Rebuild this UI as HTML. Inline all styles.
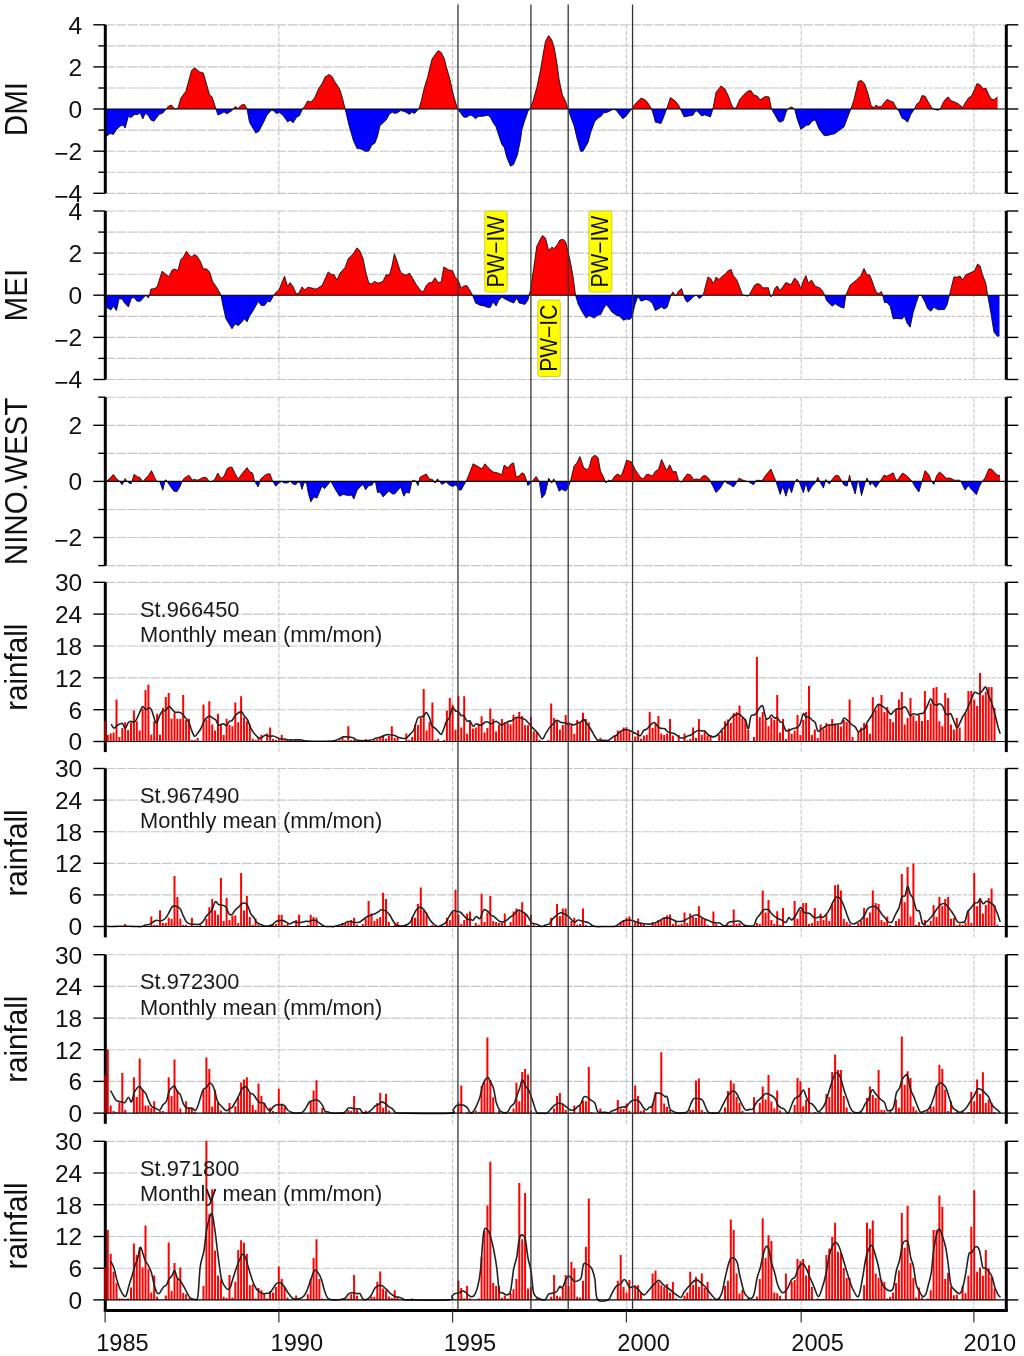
<!DOCTYPE html>
<html><head><meta charset="utf-8"><title>Climate indices and rainfall</title>
<style>html,body{margin:0;padding:0;background:#fff;width:1024px;height:1356px;overflow:hidden}svg{display:block}</style>
</head><body>
<svg width="1024" height="1356" viewBox="0 0 1024 1356" font-family="'Liberation Sans', Arial, Helvetica, sans-serif"><path d="M104.75 193.3H882.25" stroke="#c6c6c6" stroke-width="1.15" stroke-dasharray="10.045 1.4" fill="none"/>
<path d="M882.95 193.3H1006" stroke="#c6c6c6" stroke-width="1.15" stroke-dasharray="3.9 1.4 4.745 1.4" fill="none"/>
<path d="M104.75 172.2H882.25" stroke="#c6c6c6" stroke-width="1.15" stroke-dasharray="10.045 1.4" fill="none"/>
<path d="M882.95 172.2H1006" stroke="#c6c6c6" stroke-width="1.15" stroke-dasharray="3.9 1.4 4.745 1.4" fill="none"/>
<path d="M104.75 151.2H882.25" stroke="#c6c6c6" stroke-width="1.15" stroke-dasharray="10.045 1.4" fill="none"/>
<path d="M882.95 151.2H1006" stroke="#c6c6c6" stroke-width="1.15" stroke-dasharray="3.9 1.4 4.745 1.4" fill="none"/>
<path d="M104.75 130.1H882.25" stroke="#c6c6c6" stroke-width="1.15" stroke-dasharray="10.045 1.4" fill="none"/>
<path d="M882.95 130.1H1006" stroke="#c6c6c6" stroke-width="1.15" stroke-dasharray="3.9 1.4 4.745 1.4" fill="none"/>
<path d="M104.75 88H882.25" stroke="#c6c6c6" stroke-width="1.15" stroke-dasharray="10.045 1.4" fill="none"/>
<path d="M882.95 88H1006" stroke="#c6c6c6" stroke-width="1.15" stroke-dasharray="3.9 1.4 4.745 1.4" fill="none"/>
<path d="M104.75 66.9H882.25" stroke="#c6c6c6" stroke-width="1.15" stroke-dasharray="10.045 1.4" fill="none"/>
<path d="M882.95 66.9H1006" stroke="#c6c6c6" stroke-width="1.15" stroke-dasharray="3.9 1.4 4.745 1.4" fill="none"/>
<path d="M104.75 45.9H882.25" stroke="#c6c6c6" stroke-width="1.15" stroke-dasharray="10.045 1.4" fill="none"/>
<path d="M882.95 45.9H1006" stroke="#c6c6c6" stroke-width="1.15" stroke-dasharray="3.9 1.4 4.745 1.4" fill="none"/>
<path d="M104.75 24.8H882.25" stroke="#c6c6c6" stroke-width="1.15" stroke-dasharray="10.045 1.4" fill="none"/>
<path d="M882.95 24.8H1006" stroke="#c6c6c6" stroke-width="1.15" stroke-dasharray="3.9 1.4 4.745 1.4" fill="none"/>
<line x1="278.9" x2="278.9" y1="24.8" y2="193.3" stroke="#c6c6c6" stroke-width="1.1" stroke-dasharray="4.3 1.6"/>
<line x1="452.6" x2="452.6" y1="24.8" y2="193.3" stroke="#c6c6c6" stroke-width="1.1" stroke-dasharray="4.3 1.6"/>
<line x1="626.4" x2="626.4" y1="24.8" y2="193.3" stroke="#c6c6c6" stroke-width="1.1" stroke-dasharray="4.3 1.6"/>
<line x1="801.2" x2="801.2" y1="24.8" y2="193.3" stroke="#c6c6c6" stroke-width="1.1" stroke-dasharray="4.3 1.6"/>
<line x1="973.9" x2="973.9" y1="24.8" y2="193.3" stroke="#c6c6c6" stroke-width="1.1" stroke-dasharray="4.3 1.6"/>
<path d="M104.75 379.5H882.25" stroke="#c6c6c6" stroke-width="1.15" stroke-dasharray="10.045 1.4" fill="none"/>
<path d="M882.95 379.5H1006" stroke="#c6c6c6" stroke-width="1.15" stroke-dasharray="3.9 1.4 4.745 1.4" fill="none"/>
<path d="M104.75 358.4H882.25" stroke="#c6c6c6" stroke-width="1.15" stroke-dasharray="10.045 1.4" fill="none"/>
<path d="M882.95 358.4H1006" stroke="#c6c6c6" stroke-width="1.15" stroke-dasharray="3.9 1.4 4.745 1.4" fill="none"/>
<path d="M104.75 337.4H882.25" stroke="#c6c6c6" stroke-width="1.15" stroke-dasharray="10.045 1.4" fill="none"/>
<path d="M882.95 337.4H1006" stroke="#c6c6c6" stroke-width="1.15" stroke-dasharray="3.9 1.4 4.745 1.4" fill="none"/>
<path d="M104.75 316.3H882.25" stroke="#c6c6c6" stroke-width="1.15" stroke-dasharray="10.045 1.4" fill="none"/>
<path d="M882.95 316.3H1006" stroke="#c6c6c6" stroke-width="1.15" stroke-dasharray="3.9 1.4 4.745 1.4" fill="none"/>
<path d="M104.75 274.2H882.25" stroke="#c6c6c6" stroke-width="1.15" stroke-dasharray="10.045 1.4" fill="none"/>
<path d="M882.95 274.2H1006" stroke="#c6c6c6" stroke-width="1.15" stroke-dasharray="3.9 1.4 4.745 1.4" fill="none"/>
<path d="M104.75 253.1H882.25" stroke="#c6c6c6" stroke-width="1.15" stroke-dasharray="10.045 1.4" fill="none"/>
<path d="M882.95 253.1H1006" stroke="#c6c6c6" stroke-width="1.15" stroke-dasharray="3.9 1.4 4.745 1.4" fill="none"/>
<path d="M104.75 232.1H882.25" stroke="#c6c6c6" stroke-width="1.15" stroke-dasharray="10.045 1.4" fill="none"/>
<path d="M882.95 232.1H1006" stroke="#c6c6c6" stroke-width="1.15" stroke-dasharray="3.9 1.4 4.745 1.4" fill="none"/>
<path d="M104.75 211H882.25" stroke="#c6c6c6" stroke-width="1.15" stroke-dasharray="10.045 1.4" fill="none"/>
<path d="M882.95 211H1006" stroke="#c6c6c6" stroke-width="1.15" stroke-dasharray="3.9 1.4 4.745 1.4" fill="none"/>
<line x1="278.9" x2="278.9" y1="211.0" y2="379.5" stroke="#c6c6c6" stroke-width="1.1" stroke-dasharray="4.3 1.6"/>
<line x1="452.6" x2="452.6" y1="211.0" y2="379.5" stroke="#c6c6c6" stroke-width="1.1" stroke-dasharray="4.3 1.6"/>
<line x1="626.4" x2="626.4" y1="211.0" y2="379.5" stroke="#c6c6c6" stroke-width="1.1" stroke-dasharray="4.3 1.6"/>
<line x1="801.2" x2="801.2" y1="211.0" y2="379.5" stroke="#c6c6c6" stroke-width="1.1" stroke-dasharray="4.3 1.6"/>
<line x1="973.9" x2="973.9" y1="211.0" y2="379.5" stroke="#c6c6c6" stroke-width="1.1" stroke-dasharray="4.3 1.6"/>
<path d="M104.75 565.6H882.25" stroke="#c6c6c6" stroke-width="1.15" stroke-dasharray="10.045 1.4" fill="none"/>
<path d="M882.95 565.6H1006" stroke="#c6c6c6" stroke-width="1.15" stroke-dasharray="3.9 1.4 4.745 1.4" fill="none"/>
<path d="M104.75 537.5H882.25" stroke="#c6c6c6" stroke-width="1.15" stroke-dasharray="10.045 1.4" fill="none"/>
<path d="M882.95 537.5H1006" stroke="#c6c6c6" stroke-width="1.15" stroke-dasharray="3.9 1.4 4.745 1.4" fill="none"/>
<path d="M104.75 509.5H882.25" stroke="#c6c6c6" stroke-width="1.15" stroke-dasharray="10.045 1.4" fill="none"/>
<path d="M882.95 509.5H1006" stroke="#c6c6c6" stroke-width="1.15" stroke-dasharray="3.9 1.4 4.745 1.4" fill="none"/>
<path d="M104.75 453.3H882.25" stroke="#c6c6c6" stroke-width="1.15" stroke-dasharray="10.045 1.4" fill="none"/>
<path d="M882.95 453.3H1006" stroke="#c6c6c6" stroke-width="1.15" stroke-dasharray="3.9 1.4 4.745 1.4" fill="none"/>
<path d="M104.75 425.3H882.25" stroke="#c6c6c6" stroke-width="1.15" stroke-dasharray="10.045 1.4" fill="none"/>
<path d="M882.95 425.3H1006" stroke="#c6c6c6" stroke-width="1.15" stroke-dasharray="3.9 1.4 4.745 1.4" fill="none"/>
<path d="M104.75 397.2H882.25" stroke="#c6c6c6" stroke-width="1.15" stroke-dasharray="10.045 1.4" fill="none"/>
<path d="M882.95 397.2H1006" stroke="#c6c6c6" stroke-width="1.15" stroke-dasharray="3.9 1.4 4.745 1.4" fill="none"/>
<line x1="278.9" x2="278.9" y1="397.2" y2="565.6" stroke="#c6c6c6" stroke-width="1.1" stroke-dasharray="4.3 1.6"/>
<line x1="452.6" x2="452.6" y1="397.2" y2="565.6" stroke="#c6c6c6" stroke-width="1.1" stroke-dasharray="4.3 1.6"/>
<line x1="626.4" x2="626.4" y1="397.2" y2="565.6" stroke="#c6c6c6" stroke-width="1.1" stroke-dasharray="4.3 1.6"/>
<line x1="801.2" x2="801.2" y1="397.2" y2="565.6" stroke="#c6c6c6" stroke-width="1.1" stroke-dasharray="4.3 1.6"/>
<line x1="973.9" x2="973.9" y1="397.2" y2="565.6" stroke="#c6c6c6" stroke-width="1.1" stroke-dasharray="4.3 1.6"/>
<path d="M104.75 709.7H882.25" stroke="#c6c6c6" stroke-width="1.15" stroke-dasharray="10.045 1.4" fill="none"/>
<path d="M882.95 709.7H1006" stroke="#c6c6c6" stroke-width="1.15" stroke-dasharray="3.9 1.4 4.745 1.4" fill="none"/>
<path d="M104.75 677.8H882.25" stroke="#c6c6c6" stroke-width="1.15" stroke-dasharray="10.045 1.4" fill="none"/>
<path d="M882.95 677.8H1006" stroke="#c6c6c6" stroke-width="1.15" stroke-dasharray="3.9 1.4 4.745 1.4" fill="none"/>
<path d="M104.75 646H882.25" stroke="#c6c6c6" stroke-width="1.15" stroke-dasharray="10.045 1.4" fill="none"/>
<path d="M882.95 646H1006" stroke="#c6c6c6" stroke-width="1.15" stroke-dasharray="3.9 1.4 4.745 1.4" fill="none"/>
<path d="M104.75 614.1H882.25" stroke="#c6c6c6" stroke-width="1.15" stroke-dasharray="10.045 1.4" fill="none"/>
<path d="M882.95 614.1H1006" stroke="#c6c6c6" stroke-width="1.15" stroke-dasharray="3.9 1.4 4.745 1.4" fill="none"/>
<path d="M104.75 582.3H882.25" stroke="#c6c6c6" stroke-width="1.15" stroke-dasharray="10.045 1.4" fill="none"/>
<path d="M882.95 582.3H1006" stroke="#c6c6c6" stroke-width="1.15" stroke-dasharray="3.9 1.4 4.745 1.4" fill="none"/>
<line x1="278.9" x2="278.9" y1="582.3" y2="752.1" stroke="#c6c6c6" stroke-width="1.1" stroke-dasharray="4.3 1.6"/>
<line x1="452.6" x2="452.6" y1="582.3" y2="752.1" stroke="#c6c6c6" stroke-width="1.1" stroke-dasharray="4.3 1.6"/>
<line x1="626.4" x2="626.4" y1="582.3" y2="752.1" stroke="#c6c6c6" stroke-width="1.1" stroke-dasharray="4.3 1.6"/>
<line x1="801.2" x2="801.2" y1="582.3" y2="752.1" stroke="#c6c6c6" stroke-width="1.1" stroke-dasharray="4.3 1.6"/>
<line x1="973.9" x2="973.9" y1="582.3" y2="752.1" stroke="#c6c6c6" stroke-width="1.1" stroke-dasharray="4.3 1.6"/>
<path d="M104.75 894.9H882.25" stroke="#c6c6c6" stroke-width="1.15" stroke-dasharray="10.045 1.4" fill="none"/>
<path d="M882.95 894.9H1006" stroke="#c6c6c6" stroke-width="1.15" stroke-dasharray="3.9 1.4 4.745 1.4" fill="none"/>
<path d="M104.75 863.3H882.25" stroke="#c6c6c6" stroke-width="1.15" stroke-dasharray="10.045 1.4" fill="none"/>
<path d="M882.95 863.3H1006" stroke="#c6c6c6" stroke-width="1.15" stroke-dasharray="3.9 1.4 4.745 1.4" fill="none"/>
<path d="M104.75 831.7H882.25" stroke="#c6c6c6" stroke-width="1.15" stroke-dasharray="10.045 1.4" fill="none"/>
<path d="M882.95 831.7H1006" stroke="#c6c6c6" stroke-width="1.15" stroke-dasharray="3.9 1.4 4.745 1.4" fill="none"/>
<path d="M104.75 800.1H882.25" stroke="#c6c6c6" stroke-width="1.15" stroke-dasharray="10.045 1.4" fill="none"/>
<path d="M882.95 800.1H1006" stroke="#c6c6c6" stroke-width="1.15" stroke-dasharray="3.9 1.4 4.745 1.4" fill="none"/>
<path d="M104.75 768.5H882.25" stroke="#c6c6c6" stroke-width="1.15" stroke-dasharray="10.045 1.4" fill="none"/>
<path d="M882.95 768.5H1006" stroke="#c6c6c6" stroke-width="1.15" stroke-dasharray="3.9 1.4 4.745 1.4" fill="none"/>
<line x1="278.9" x2="278.9" y1="768.5" y2="937.4" stroke="#c6c6c6" stroke-width="1.1" stroke-dasharray="4.3 1.6"/>
<line x1="452.6" x2="452.6" y1="768.5" y2="937.4" stroke="#c6c6c6" stroke-width="1.1" stroke-dasharray="4.3 1.6"/>
<line x1="626.4" x2="626.4" y1="768.5" y2="937.4" stroke="#c6c6c6" stroke-width="1.1" stroke-dasharray="4.3 1.6"/>
<line x1="801.2" x2="801.2" y1="768.5" y2="937.4" stroke="#c6c6c6" stroke-width="1.1" stroke-dasharray="4.3 1.6"/>
<line x1="973.9" x2="973.9" y1="768.5" y2="937.4" stroke="#c6c6c6" stroke-width="1.1" stroke-dasharray="4.3 1.6"/>
<path d="M104.75 1081.4H882.25" stroke="#c6c6c6" stroke-width="1.15" stroke-dasharray="10.045 1.4" fill="none"/>
<path d="M882.95 1081.4H1006" stroke="#c6c6c6" stroke-width="1.15" stroke-dasharray="3.9 1.4 4.745 1.4" fill="none"/>
<path d="M104.75 1049.7H882.25" stroke="#c6c6c6" stroke-width="1.15" stroke-dasharray="10.045 1.4" fill="none"/>
<path d="M882.95 1049.7H1006" stroke="#c6c6c6" stroke-width="1.15" stroke-dasharray="3.9 1.4 4.745 1.4" fill="none"/>
<path d="M104.75 1018.1H882.25" stroke="#c6c6c6" stroke-width="1.15" stroke-dasharray="10.045 1.4" fill="none"/>
<path d="M882.95 1018.1H1006" stroke="#c6c6c6" stroke-width="1.15" stroke-dasharray="3.9 1.4 4.745 1.4" fill="none"/>
<path d="M104.75 986.4H882.25" stroke="#c6c6c6" stroke-width="1.15" stroke-dasharray="10.045 1.4" fill="none"/>
<path d="M882.95 986.4H1006" stroke="#c6c6c6" stroke-width="1.15" stroke-dasharray="3.9 1.4 4.745 1.4" fill="none"/>
<path d="M104.75 954.7H882.25" stroke="#c6c6c6" stroke-width="1.15" stroke-dasharray="10.045 1.4" fill="none"/>
<path d="M882.95 954.7H1006" stroke="#c6c6c6" stroke-width="1.15" stroke-dasharray="3.9 1.4 4.745 1.4" fill="none"/>
<line x1="278.9" x2="278.9" y1="954.7" y2="1123.8" stroke="#c6c6c6" stroke-width="1.1" stroke-dasharray="4.3 1.6"/>
<line x1="452.6" x2="452.6" y1="954.7" y2="1123.8" stroke="#c6c6c6" stroke-width="1.1" stroke-dasharray="4.3 1.6"/>
<line x1="626.4" x2="626.4" y1="954.7" y2="1123.8" stroke="#c6c6c6" stroke-width="1.1" stroke-dasharray="4.3 1.6"/>
<line x1="801.2" x2="801.2" y1="954.7" y2="1123.8" stroke="#c6c6c6" stroke-width="1.1" stroke-dasharray="4.3 1.6"/>
<line x1="973.9" x2="973.9" y1="954.7" y2="1123.8" stroke="#c6c6c6" stroke-width="1.1" stroke-dasharray="4.3 1.6"/>
<path d="M104.75 1268.2H882.25" stroke="#c6c6c6" stroke-width="1.15" stroke-dasharray="10.045 1.4" fill="none"/>
<path d="M882.95 1268.2H1006" stroke="#c6c6c6" stroke-width="1.15" stroke-dasharray="3.9 1.4 4.745 1.4" fill="none"/>
<path d="M104.75 1236.5H882.25" stroke="#c6c6c6" stroke-width="1.15" stroke-dasharray="10.045 1.4" fill="none"/>
<path d="M882.95 1236.5H1006" stroke="#c6c6c6" stroke-width="1.15" stroke-dasharray="3.9 1.4 4.745 1.4" fill="none"/>
<path d="M104.75 1204.7H882.25" stroke="#c6c6c6" stroke-width="1.15" stroke-dasharray="10.045 1.4" fill="none"/>
<path d="M882.95 1204.7H1006" stroke="#c6c6c6" stroke-width="1.15" stroke-dasharray="3.9 1.4 4.745 1.4" fill="none"/>
<path d="M104.75 1173H882.25" stroke="#c6c6c6" stroke-width="1.15" stroke-dasharray="10.045 1.4" fill="none"/>
<path d="M882.95 1173H1006" stroke="#c6c6c6" stroke-width="1.15" stroke-dasharray="3.9 1.4 4.745 1.4" fill="none"/>
<path d="M104.75 1141.3H882.25" stroke="#c6c6c6" stroke-width="1.15" stroke-dasharray="10.045 1.4" fill="none"/>
<path d="M882.95 1141.3H1006" stroke="#c6c6c6" stroke-width="1.15" stroke-dasharray="3.9 1.4 4.745 1.4" fill="none"/>
<line x1="278.9" x2="278.9" y1="1141.3" y2="1310.5" stroke="#c6c6c6" stroke-width="1.1" stroke-dasharray="4.3 1.6"/>
<line x1="452.6" x2="452.6" y1="1141.3" y2="1310.5" stroke="#c6c6c6" stroke-width="1.1" stroke-dasharray="4.3 1.6"/>
<line x1="626.4" x2="626.4" y1="1141.3" y2="1310.5" stroke="#c6c6c6" stroke-width="1.1" stroke-dasharray="4.3 1.6"/>
<line x1="801.2" x2="801.2" y1="1141.3" y2="1310.5" stroke="#c6c6c6" stroke-width="1.1" stroke-dasharray="4.3 1.6"/>
<line x1="973.9" x2="973.9" y1="1141.3" y2="1310.5" stroke="#c6c6c6" stroke-width="1.1" stroke-dasharray="4.3 1.6"/>
<path d="M105.2,109 L105.2,109 L106.5,109 L110.2,109 L113.4,109 L116.5,109 L120.2,109 L122.8,109 L125.2,109 L128.4,109 L130.9,109 L134.6,109 L137.1,109 L140.2,109 L142.8,109 L145.2,109 L147.8,109 L150.9,109 L154,109 L159,109 L162.8,109 L166.2,109 L166.5,108.8 L168.4,106.2 L171.5,105 L174.6,109 L177.8,108.5 L180.9,98.1 L185.9,91.2 L191.5,70.6 L194.6,67.8 L199.6,71.9 L203.4,73.1 L209.6,95 L212.1,96.9 L215.9,108.8 L216,109 L217.8,109 L220.9,109 L224,109 L227.1,109 L232,109 L233.2,109 L235.1,106.5 L238.2,108.5 L241.4,105 L244.5,104.4 L247,109 L247,109 L249.5,109 L255.8,109 L258.9,109 L263.2,109 L267,109 L271.4,109 L273.2,109 L276.4,109 L279.5,109 L283.2,109 L287.6,109 L290.1,109 L293.2,109 L296.4,109 L299.5,109 L302.5,109 L302.6,108.8 L304.5,106.5 L307.6,101 L310.8,101.9 L314.5,98.1 L318.9,88.1 L322,83.8 L325.1,76.9 L328.9,74.4 L332,76.5 L334.5,81.2 L339.5,88.8 L342,96.2 L345.1,108.8 L345.2,109 L348.9,109 L353.2,109 L357,109 L360,109 L362.5,109 L365.6,109 L368.8,109 L371.9,109 L375,109 L377.5,109 L380,109 L383.1,109 L386.2,109 L389.4,109 L392.5,109 L394.4,109 L397.5,109 L400.6,109 L404.4,109 L406.9,109 L409.4,109 L411.9,109 L414.4,109 L418.7,109 L418.8,109 L421.2,101.2 L424.4,87.5 L427.5,77.5 L431.9,59.4 L435,54.8 L438.1,50.6 L441.2,52.5 L444.4,58.8 L446.2,66.2 L450,79.4 L453.1,93.8 L457.5,108.8 L457.7,109 L463.8,109 L466.9,109 L470,109 L472.5,109 L475.6,109 L478.1,109 L483.1,109 L488,109 L490.5,109 L493,109 L496.1,109 L498.6,109 L501.8,109 L504.2,109 L506.8,109 L510.5,109 L513.6,109 L517.4,109 L520.5,109 L521.8,109 L524.9,109 L528,109 L529.6,109 L529.9,108.8 L533,101.2 L536.8,87.5 L540.5,70 L543,55 L545.5,41.2 L548.6,35.6 L551.8,40 L554.2,47.5 L556.8,62.5 L559.2,80 L562.4,95 L565.5,101.2 L568,108.8 L568.1,109 L570.5,109 L574.2,109 L576.8,109 L580.5,109 L583,109 L588,109 L591.1,109 L594.9,109 L598,109 L601.1,109 L603.6,109 L606.8,109 L609.9,109 L613,109 L616,109 L619.8,109 L622.9,109 L626,109 L631.6,109 L631.6,109 L634.8,104.4 L641,98.1 L645.4,100 L648.5,103.8 L651.6,109 L651.6,109 L653.5,109 L655.4,109 L661,109 L663.5,109 L666.6,109 L666.6,109 L670.4,97.5 L674.8,100.6 L678.5,105 L680.4,109 L680.4,109 L684.1,109 L688.5,109 L692.9,109 L696,109 L698.5,109 L701.6,109 L704.8,109 L710.4,109 L712.9,109 L712.9,109 L716,92.5 L721,86 L724.8,88.8 L728.5,96.2 L731.6,105 L734.8,109 L736.6,106.5 L739.8,99.4 L744,94.4 L747.8,91.2 L750.9,90.6 L754,95.2 L757.1,96 L760.2,99.8 L765.2,96.5 L769,96.9 L771.5,109 L771.5,109 L774.6,109 L778.4,109 L780.2,109 L783.4,109 L786.5,109 L788.2,109 L789,108.1 L791.5,106.9 L794.6,109 L794.6,109 L797.1,109 L800.9,109 L806.5,109 L809,109 L812.1,109 L815.2,109 L819,109 L824,109 L827.1,109 L831.5,109 L834.6,109 L839,109 L844,109 L847.1,109 L850.9,109 L850.9,109 L854,99.4 L858.4,81.2 L861.5,80.6 L864.6,83.8 L867.8,93.1 L871.5,106.9 L872,106.2 L873.9,108.1 L875.8,105.2 L878.9,106.9 L881.4,106.5 L883.9,103.1 L887,99.4 L890.8,101.2 L893.2,101.9 L897,109 L897,109 L898.9,109 L902,109 L904.5,109 L907.6,109 L910.8,109 L914.5,109 L914.5,109 L916.4,104.4 L919.5,101.9 L922,95.6 L925.1,96.2 L928.2,101.9 L932,108.1 L933.9,109 L934.5,109 L937.6,109 L940.1,109 L940.3,109 L943.2,102.5 L945.8,98.8 L948.2,96.9 L950.8,100.6 L954.5,101.9 L958.2,103.8 L962.6,107.5 L965.8,101.9 L968.9,97.5 L971.4,96.2 L974.5,89.4 L977,83.5 L980.1,85 L983.2,88.8 L985.8,88.1 L988.9,95 L992,99.8 L994.5,99.4 L997.6,96.9 L997.6,109 Z" fill="#ff0000"/>
<path d="M105.2,109 L105.2,136.9 L106.5,136.2 L110.2,133.5 L113.4,134.4 L116.5,129.4 L120.2,126.2 L122.8,125 L125.2,128.1 L128.4,116.2 L130.9,117.5 L134.6,114.4 L137.1,114.8 L140.2,112.8 L142.8,119 L145.2,113.5 L147.8,114.8 L150.9,120 L154,121.2 L159,114.4 L162.8,113.1 L166.2,109 L166.5,109 L168.4,109 L171.5,109 L174.6,109 L177.8,109 L180.9,109 L185.9,109 L191.5,109 L194.6,109 L199.6,109 L203.4,109 L209.6,109 L212.1,109 L215.9,109 L216,109 L217.8,115 L220.9,113.8 L224,111.9 L227.1,113.8 L232,110.6 L233.2,109 L235.1,109 L238.2,109 L241.4,109 L244.5,109 L247,109 L247,109 L249.5,122.5 L255.8,133.1 L258.9,131.2 L263.2,123.1 L267,115 L271.4,110.2 L273.2,110.6 L276.4,113.5 L279.5,112.5 L283.2,115.6 L287.6,121.9 L290.1,120.2 L293.2,122.8 L296.4,117.5 L299.5,115.6 L302.5,109 L302.6,109 L304.5,109 L307.6,109 L310.8,109 L314.5,109 L318.9,109 L322,109 L325.1,109 L328.9,109 L332,109 L334.5,109 L339.5,109 L342,109 L345.1,109 L345.2,109 L348.9,125 L353.2,140 L357,148.5 L360,148.8 L362.5,149.8 L365.6,151.5 L368.8,151 L371.9,145 L375,143.1 L377.5,136.2 L380,125.6 L383.1,122.8 L386.2,120 L389.4,114 L392.5,112.2 L394.4,113.5 L397.5,112.8 L400.6,110.6 L404.4,111.5 L406.9,112.8 L409.4,114.4 L411.9,111.9 L414.4,113.5 L418.7,109 L418.8,109 L421.2,109 L424.4,109 L427.5,109 L431.9,109 L435,109 L438.1,109 L441.2,109 L444.4,109 L446.2,109 L450,109 L453.1,109 L457.5,109 L457.7,109 L463.8,117.2 L466.9,117.2 L470,115 L472.5,116 L475.6,118.8 L478.1,116.5 L483.1,116.2 L488,115.2 L490.5,117.5 L493,122.5 L496.1,126.9 L498.6,135 L501.8,144.4 L504.2,147.5 L506.8,157.5 L510.5,166.2 L513.6,164.4 L517.4,155 L520.5,140 L521.8,130 L524.9,120 L528,111.2 L529.6,109 L529.9,109 L533,109 L536.8,109 L540.5,109 L543,109 L545.5,109 L548.6,109 L551.8,109 L554.2,109 L556.8,109 L559.2,109 L562.4,109 L565.5,109 L568,109 L568.1,109 L570.5,116.2 L574.2,126.2 L576.8,137.5 L580.5,151.2 L583,151.2 L588,142.5 L591.1,131.2 L594.9,121.2 L598,118.1 L601.1,116.2 L603.6,112.8 L606.8,112.5 L609.9,111 L613,109.4 L616,110 L619.8,115 L622.9,118.8 L626,116.2 L631.6,109 L631.6,109 L634.8,109 L641,109 L645.4,109 L648.5,109 L651.6,109 L651.6,109 L653.5,115 L655.4,122.2 L661,123.5 L663.5,117.5 L666.6,109 L666.6,109 L670.4,109 L674.8,109 L678.5,109 L680.4,109 L680.4,109 L684.1,116.9 L688.5,116 L692.9,115.2 L696,110.6 L698.5,112.5 L701.6,116 L704.8,114.8 L710.4,116.9 L712.9,109 L712.9,109 L716,109 L721,109 L724.8,109 L728.5,109 L731.6,109 L734.8,109 L736.6,109 L739.8,109 L744,109 L747.8,109 L750.9,109 L754,109 L757.1,109 L760.2,109 L765.2,109 L769,109 L771.5,109 L771.5,109 L774.6,114.4 L778.4,121.2 L780.2,122.2 L783.4,120.6 L786.5,111 L788.2,109 L789,109 L791.5,109 L794.6,109 L794.6,109 L797.1,118.8 L800.9,129.4 L806.5,125.2 L809,125 L812.1,121.2 L815.2,119.8 L819,128.8 L824,135.6 L827.1,135.6 L831.5,134.4 L834.6,133.8 L839,130.6 L844,126.9 L847.1,118.8 L850.9,109 L850.9,109 L854,109 L858.4,109 L861.5,109 L864.6,109 L867.8,109 L871.5,109 L872,109 L873.9,109 L875.8,109 L878.9,109 L881.4,109 L883.9,109 L887,109 L890.8,109 L893.2,109 L897,109 L897,109 L898.9,111.2 L902,118.1 L904.5,119.4 L907.6,122.2 L910.8,114.4 L914.5,109 L914.5,109 L916.4,109 L919.5,109 L922,109 L925.1,109 L928.2,109 L932,109 L933.9,109 L934.5,109.4 L937.6,110.2 L940.1,109.4 L940.3,109 L943.2,109 L945.8,109 L948.2,109 L950.8,109 L954.5,109 L958.2,109 L962.6,109 L965.8,109 L968.9,109 L971.4,109 L974.5,109 L977,109 L980.1,109 L983.2,109 L985.8,109 L988.9,109 L992,109 L994.5,109 L997.6,109 L997.6,109 Z" fill="#0000ff"/>
<path d="M105.2,136.9 L106.5,136.2 L110.2,133.5 L113.4,134.4 L116.5,129.4 L120.2,126.2 L122.8,125 L125.2,128.1 L128.4,116.2 L130.9,117.5 L134.6,114.4 L137.1,114.8 L140.2,112.8 L142.8,119 L145.2,113.5 L147.8,114.8 L150.9,120 L154,121.2 L159,114.4 L162.8,113.1 L166.5,108.8 L168.4,106.2 L171.5,105 L174.6,109 L177.8,108.5 L180.9,98.1 L185.9,91.2 L191.5,70.6 L194.6,67.8 L199.6,71.9 L203.4,73.1 L209.6,95 L212.1,96.9 L215.9,108.8 L217.8,115 L220.9,113.8 L224,111.9 L227.1,113.8 L232,110.6 L235.1,106.5 L238.2,108.5 L241.4,105 L244.5,104.4 L247,109 L249.5,122.5 L255.8,133.1 L258.9,131.2 L263.2,123.1 L267,115 L271.4,110.2 L273.2,110.6 L276.4,113.5 L279.5,112.5 L283.2,115.6 L287.6,121.9 L290.1,120.2 L293.2,122.8 L296.4,117.5 L299.5,115.6 L302.6,108.8 L304.5,106.5 L307.6,101 L310.8,101.9 L314.5,98.1 L318.9,88.1 L322,83.8 L325.1,76.9 L328.9,74.4 L332,76.5 L334.5,81.2 L339.5,88.8 L342,96.2 L345.1,108.8 L348.9,125 L353.2,140 L357,148.5 L360,148.8 L362.5,149.8 L365.6,151.5 L368.8,151 L371.9,145 L375,143.1 L377.5,136.2 L380,125.6 L383.1,122.8 L386.2,120 L389.4,114 L392.5,112.2 L394.4,113.5 L397.5,112.8 L400.6,110.6 L404.4,111.5 L406.9,112.8 L409.4,114.4 L411.9,111.9 L414.4,113.5 L418.8,109 L421.2,101.2 L424.4,87.5 L427.5,77.5 L431.9,59.4 L435,54.8 L438.1,50.6 L441.2,52.5 L444.4,58.8 L446.2,66.2 L450,79.4 L453.1,93.8 L457.5,108.8 L463.8,117.2 L466.9,117.2 L470,115 L472.5,116 L475.6,118.8 L478.1,116.5 L483.1,116.2 L488,115.2 L490.5,117.5 L493,122.5 L496.1,126.9 L498.6,135 L501.8,144.4 L504.2,147.5 L506.8,157.5 L510.5,166.2 L513.6,164.4 L517.4,155 L520.5,140 L521.8,130 L524.9,120 L528,111.2 L529.9,108.8 L533,101.2 L536.8,87.5 L540.5,70 L543,55 L545.5,41.2 L548.6,35.6 L551.8,40 L554.2,47.5 L556.8,62.5 L559.2,80 L562.4,95 L565.5,101.2 L568,108.8 L570.5,116.2 L574.2,126.2 L576.8,137.5 L580.5,151.2 L583,151.2 L588,142.5 L591.1,131.2 L594.9,121.2 L598,118.1 L601.1,116.2 L603.6,112.8 L606.8,112.5 L609.9,111 L613,109.4 L616,110 L619.8,115 L622.9,118.8 L626,116.2 L631.6,109 L634.8,104.4 L641,98.1 L645.4,100 L648.5,103.8 L651.6,109 L653.5,115 L655.4,122.2 L661,123.5 L663.5,117.5 L666.6,109 L670.4,97.5 L674.8,100.6 L678.5,105 L680.4,109 L684.1,116.9 L688.5,116 L692.9,115.2 L696,110.6 L698.5,112.5 L701.6,116 L704.8,114.8 L710.4,116.9 L712.9,109 L716,92.5 L721,86 L724.8,88.8 L728.5,96.2 L731.6,105 L734.8,109 L736.6,106.5 L739.8,99.4 L744,94.4 L747.8,91.2 L750.9,90.6 L754,95.2 L757.1,96 L760.2,99.8 L765.2,96.5 L769,96.9 L771.5,109 L774.6,114.4 L778.4,121.2 L780.2,122.2 L783.4,120.6 L786.5,111 L789,108.1 L791.5,106.9 L794.6,109 L797.1,118.8 L800.9,129.4 L806.5,125.2 L809,125 L812.1,121.2 L815.2,119.8 L819,128.8 L824,135.6 L827.1,135.6 L831.5,134.4 L834.6,133.8 L839,130.6 L844,126.9 L847.1,118.8 L850.9,109 L854,99.4 L858.4,81.2 L861.5,80.6 L864.6,83.8 L867.8,93.1 L871.5,106.9 L872,106.2 L873.9,108.1 L875.8,105.2 L878.9,106.9 L881.4,106.5 L883.9,103.1 L887,99.4 L890.8,101.2 L893.2,101.9 L897,109 L898.9,111.2 L902,118.1 L904.5,119.4 L907.6,122.2 L910.8,114.4 L914.5,109 L916.4,104.4 L919.5,101.9 L922,95.6 L925.1,96.2 L928.2,101.9 L932,108.1 L934.5,109.4 L937.6,110.2 L940.1,109.4 L943.2,102.5 L945.8,98.8 L948.2,96.9 L950.8,100.6 L954.5,101.9 L958.2,103.8 L962.6,107.5 L965.8,101.9 L968.9,97.5 L971.4,96.2 L974.5,89.4 L977,83.5 L980.1,85 L983.2,88.8 L985.8,88.1 L988.9,95 L992,99.8 L994.5,99.4 L997.6,96.9" fill="none" stroke="#000" stroke-width="0.8" stroke-linejoin="round"/>
<path d="M105.2,295.2 L105.2,295.2 L107.8,295.2 L110.9,295.2 L113.4,295.2 L116.5,295.2 L119,295.2 L122.1,295.2 L124.6,295.2 L128.4,295.2 L131.5,295.2 L134,295.2 L137.1,295.2 L140.2,295.2 L143.4,295.2 L145.2,295.2 L147.1,295.2 L148.4,295.2 L149.5,295.2 L149.6,295 L150.9,289 L154,288.8 L157.1,286.9 L162.1,271.2 L165.2,273.8 L169,276.9 L172.1,270 L174.6,269 L177.8,270.6 L180.9,259.4 L183.4,256.9 L186.5,251.2 L189,255 L191.5,256.9 L194.6,254.4 L197.1,256.2 L200.2,261.2 L203.4,269 L206.5,268.8 L209.6,271.9 L212.8,281.9 L217.1,288.1 L220.9,295 L220.9,295.2 L222.8,295.2 L225.9,295.2 L229,295.2 L232,295.2 L235.1,295.2 L238.2,295.2 L241.4,295.2 L244.5,295.2 L247,295.2 L249.5,295.2 L253.2,295.2 L258.2,295.2 L261.4,295.2 L264.5,295.2 L267.6,295.2 L270.1,295.2 L273.7,295.2 L273.9,295 L275.8,292.5 L278.9,290 L281.4,283.8 L284.5,276.2 L287.6,286.5 L290.1,282.5 L293.2,286.9 L296.4,294 L298.9,293.1 L302,286.9 L305.1,289.8 L307.6,287.2 L312,288.1 L315.1,289 L317,288.8 L319.5,286.9 L322,285.6 L325.1,278.8 L328.2,271.9 L331.4,274.4 L333.9,274.4 L337,280 L340.1,273.1 L343.2,269.4 L345.1,267.5 L348.2,258.8 L353.2,253.8 L357,247.8 L360,251.2 L363.1,258.8 L365.6,271.2 L368.8,283.1 L371.9,284 L374.4,281.2 L377.5,283.1 L380.6,282.5 L383.1,281 L386.2,274.8 L389.4,275 L391.9,266.2 L394.4,253.8 L397.5,262.5 L400.6,272.2 L403.1,274 L406.2,275.2 L409.4,273.1 L412.5,278.1 L416.2,284.4 L420,289.8 L423.1,292.2 L426.2,285.6 L428.8,282.8 L431.9,282.5 L435,277.8 L438.1,282.5 L441.2,281.9 L443.8,266.9 L448.8,270 L452.5,270.6 L455,276.9 L458.1,280 L461.2,288.1 L463.8,286 L466.9,285.6 L469.4,289.4 L472.5,295 L472.6,295.2 L475.6,295.2 L480,295.2 L484.4,295.2 L488,295.2 L490.5,295.2 L493,295.2 L496.1,295.2 L498.6,295.2 L501.8,295.2 L504.9,295.2 L508,295.2 L511.1,295.2 L513.6,295.2 L516.8,295.2 L519.2,295.2 L522.4,295.2 L524.9,295.2 L528,295.2 L529.2,295.2 L529.2,295 L530.5,290 L533.6,268.8 L536.8,246.2 L539.9,240 L542.4,235.6 L545.5,238.1 L548.6,250.2 L551.8,247.2 L554.2,248.5 L557.4,244.4 L559.9,240 L563,239.4 L565.5,241.5 L568,251.2 L570.5,262.5 L573,276.2 L575.5,295 L575.6,295.2 L578,295.2 L581.8,295.2 L586.1,295.2 L589.2,295.2 L594.2,295.2 L598,295.2 L600.5,295.2 L603.6,295.2 L606.1,295.2 L609.2,295.2 L611.8,295.2 L616,295.2 L619.8,295.2 L623.5,295.2 L626.6,295.2 L629.8,295.2 L632.2,295.2 L634.8,295.2 L637.9,295.2 L641,295.2 L646,295.2 L649.1,295.2 L652.2,295.2 L655.4,295.2 L658.5,295.2 L661.6,295.2 L664.1,295.2 L667.2,295.2 L670.9,295.2 L671,295 L672.9,291.9 L675.2,295.2 L675.8,295.2 L676.2,295.2 L678.5,291.2 L681.6,288.5 L683.5,295 L683.6,295.2 L685.4,295.2 L687.2,295.2 L690.4,295.2 L693.5,295.2 L696.6,295.2 L699.1,295.2 L701.6,295.2 L702.7,295.2 L703.5,294 L707.9,276.9 L711,279 L713.5,283.8 L716,277.2 L719.1,279.4 L722.2,276.2 L725.4,274 L727.9,271 L731,269.4 L733.5,276 L736.6,279.4 L739.8,287.5 L742.2,294.4 L744,295 L744.8,295.2 L747.8,295.2 L748.8,295.2 L749.6,294.4 L754,286 L756.5,283.8 L759.6,284 L762.8,287.8 L768.4,287.8 L769.6,293.1 L770.3,295.2 L770.9,295.2 L772.1,295.2 L772.8,294.4 L774.6,288.8 L777.1,286 L780.2,290.6 L785.9,282.5 L790.9,284.8 L794.6,278.1 L797.8,281.2 L800.9,288.8 L803.4,280.6 L805.9,275.6 L808.4,283.1 L811.5,280 L815.2,286.2 L819.6,287.8 L822.1,290.2 L824.6,295 L824.7,295.2 L826.5,295.2 L832.1,295.2 L835.2,295.2 L840.2,295.2 L844,295.2 L845.8,295.2 L845.9,295 L850.2,285 L855.9,280.6 L860.9,275.6 L864,268.5 L867.1,275 L869.6,274.8 L872,280.6 L873.9,286.2 L876.4,292.5 L878.9,293.5 L881.4,291.5 L882.6,295 L882.7,295.2 L884.5,295.2 L887,295.2 L890.1,295.2 L893.2,295.2 L897,295.2 L902,295.2 L904.5,295.2 L907,295.2 L910.1,295.2 L913.2,295.2 L916.4,295.2 L918.8,295.2 L918.9,295 L919.9,295.2 L921.4,295.2 L924.5,295.2 L927.6,295.2 L930.8,295.2 L933.9,295.2 L938.2,295.2 L944.5,295.2 L947,295.2 L949.4,295.2 L949.5,295 L953.9,276.9 L957,277.2 L960.1,276 L962.6,280 L965.8,274.8 L970.8,272.5 L974.5,271 L977.6,264 L980.1,266 L982.6,275 L985.8,283.1 L987.6,295 L987.7,295.2 L990.8,295.2 L993.9,295.2 L997.6,295.2 L999.5,295.2 L999.5,295.2 Z" fill="#ff0000"/>
<path d="M105.2,295.2 L105.2,306.9 L107.8,308.1 L110.9,310 L113.4,306.2 L116.5,310.6 L119,298.8 L122.1,299 L124.6,303.1 L128.4,306.9 L131.5,298.1 L134,297.5 L137.1,301.2 L140.2,301.2 L143.4,298.1 L145.2,295.6 L147.1,296.2 L148.4,298.1 L149.5,295.2 L149.6,295.2 L150.9,295.2 L154,295.2 L157.1,295.2 L162.1,295.2 L165.2,295.2 L169,295.2 L172.1,295.2 L174.6,295.2 L177.8,295.2 L180.9,295.2 L183.4,295.2 L186.5,295.2 L189,295.2 L191.5,295.2 L194.6,295.2 L197.1,295.2 L200.2,295.2 L203.4,295.2 L206.5,295.2 L209.6,295.2 L212.8,295.2 L217.1,295.2 L220.9,295.2 L220.9,295.2 L222.8,305 L225.9,318.8 L229,323.8 L232,328.8 L235.1,324 L238.2,325.6 L241.4,322.5 L244.5,318.8 L247,321.9 L249.5,316.2 L253.2,310.6 L258.2,301.5 L261.4,305.6 L264.5,305.6 L267.6,301.2 L270.1,301.9 L273.7,295.2 L273.9,295.2 L275.8,295.2 L278.9,295.2 L281.4,295.2 L284.5,295.2 L287.6,295.2 L290.1,295.2 L293.2,295.2 L296.4,295.2 L298.9,295.2 L302,295.2 L305.1,295.2 L307.6,295.2 L312,295.2 L315.1,295.2 L317,295.2 L319.5,295.2 L322,295.2 L325.1,295.2 L328.2,295.2 L331.4,295.2 L333.9,295.2 L337,295.2 L340.1,295.2 L343.2,295.2 L345.1,295.2 L348.2,295.2 L353.2,295.2 L357,295.2 L360,295.2 L363.1,295.2 L365.6,295.2 L368.8,295.2 L371.9,295.2 L374.4,295.2 L377.5,295.2 L380.6,295.2 L383.1,295.2 L386.2,295.2 L389.4,295.2 L391.9,295.2 L394.4,295.2 L397.5,295.2 L400.6,295.2 L403.1,295.2 L406.2,295.2 L409.4,295.2 L412.5,295.2 L416.2,295.2 L420,295.2 L423.1,295.2 L426.2,295.2 L428.8,295.2 L431.9,295.2 L435,295.2 L438.1,295.2 L441.2,295.2 L443.8,295.2 L448.8,295.2 L452.5,295.2 L455,295.2 L458.1,295.2 L461.2,295.2 L463.8,295.2 L466.9,295.2 L469.4,295.2 L472.5,295.2 L472.6,295.2 L475.6,303.1 L480,305.2 L484.4,306 L488,307.5 L490.5,307.2 L493,301.9 L496.1,306 L498.6,300.6 L501.8,296.9 L504.9,299 L508,300.6 L511.1,301.9 L513.6,303.1 L516.8,298.1 L519.2,303.1 L522.4,303.8 L524.9,304.4 L528,300 L529.2,295.2 L529.2,295.2 L530.5,295.2 L533.6,295.2 L536.8,295.2 L539.9,295.2 L542.4,295.2 L545.5,295.2 L548.6,295.2 L551.8,295.2 L554.2,295.2 L557.4,295.2 L559.9,295.2 L563,295.2 L565.5,295.2 L568,295.2 L570.5,295.2 L573,295.2 L575.5,295.2 L575.6,295.2 L578,303.8 L581.8,311.2 L586.1,318.1 L589.2,315.6 L594.2,318.1 L598,315 L600.5,314.8 L603.6,308.8 L606.1,304.4 L609.2,308.1 L611.8,311.9 L616,315 L619.8,316.5 L623.5,320.2 L626.6,319 L629.8,319.4 L632.2,316.9 L634.8,305 L637.9,296.2 L641,301.2 L646,299.4 L649.1,300.6 L652.2,303.1 L655.4,310.6 L658.5,308.8 L661.6,306.9 L664.1,309 L667.2,307.2 L670.9,295.2 L671,295.2 L672.9,295.2 L675.2,295.2 L675.8,296 L676.2,295.2 L678.5,295.2 L681.6,295.2 L683.5,295.2 L683.6,295.2 L685.4,300 L687.2,302.2 L690.4,300 L693.5,296.5 L696.6,295.2 L699.1,298.5 L701.6,296.9 L702.7,295.2 L703.5,295.2 L707.9,295.2 L711,295.2 L713.5,295.2 L716,295.2 L719.1,295.2 L722.2,295.2 L725.4,295.2 L727.9,295.2 L731,295.2 L733.5,295.2 L736.6,295.2 L739.8,295.2 L742.2,295.2 L744,295.2 L744.8,295.2 L747.8,296.2 L748.8,295.2 L749.6,295.2 L754,295.2 L756.5,295.2 L759.6,295.2 L762.8,295.2 L768.4,295.2 L769.6,295.2 L770.3,295.2 L770.9,296.9 L772.1,295.2 L772.8,295.2 L774.6,295.2 L777.1,295.2 L780.2,295.2 L785.9,295.2 L790.9,295.2 L794.6,295.2 L797.8,295.2 L800.9,295.2 L803.4,295.2 L805.9,295.2 L808.4,295.2 L811.5,295.2 L815.2,295.2 L819.6,295.2 L822.1,295.2 L824.6,295.2 L824.7,295.2 L826.5,300.6 L832.1,306.2 L835.2,303.8 L840.2,306.9 L844,308.1 L845.8,295.2 L845.9,295.2 L850.2,295.2 L855.9,295.2 L860.9,295.2 L864,295.2 L867.1,295.2 L869.6,295.2 L872,295.2 L873.9,295.2 L876.4,295.2 L878.9,295.2 L881.4,295.2 L882.6,295.2 L882.7,295.2 L884.5,302.5 L887,302.5 L890.1,306.2 L893.2,318.8 L897,318.5 L902,319 L904.5,316 L907,323.1 L910.1,327.2 L913.2,312.5 L916.4,302.5 L918.8,295.2 L918.9,295.2 L919.9,295.2 L921.4,295.6 L924.5,301.2 L927.6,308.5 L930.8,311.2 L933.9,307.2 L938.2,309.8 L944.5,309.4 L947,305 L949.4,295.2 L949.5,295.2 L953.9,295.2 L957,295.2 L960.1,295.2 L962.6,295.2 L965.8,295.2 L970.8,295.2 L974.5,295.2 L977.6,295.2 L980.1,295.2 L982.6,295.2 L985.8,295.2 L987.6,295.2 L987.7,295.2 L990.8,312.5 L993.9,331.9 L997.6,336.5 L999.5,335.6 L999.5,295.2 Z" fill="#0000ff"/>
<path d="M105.2,306.9 L107.8,308.1 L110.9,310 L113.4,306.2 L116.5,310.6 L119,298.8 L122.1,299 L124.6,303.1 L128.4,306.9 L131.5,298.1 L134,297.5 L137.1,301.2 L140.2,301.2 L143.4,298.1 L145.2,295.6 L147.1,296.2 L148.4,298.1 L149.6,295 L150.9,289 L154,288.8 L157.1,286.9 L162.1,271.2 L165.2,273.8 L169,276.9 L172.1,270 L174.6,269 L177.8,270.6 L180.9,259.4 L183.4,256.9 L186.5,251.2 L189,255 L191.5,256.9 L194.6,254.4 L197.1,256.2 L200.2,261.2 L203.4,269 L206.5,268.8 L209.6,271.9 L212.8,281.9 L217.1,288.1 L220.9,295 L222.8,305 L225.9,318.8 L229,323.8 L232,328.8 L235.1,324 L238.2,325.6 L241.4,322.5 L244.5,318.8 L247,321.9 L249.5,316.2 L253.2,310.6 L258.2,301.5 L261.4,305.6 L264.5,305.6 L267.6,301.2 L270.1,301.9 L273.9,295 L275.8,292.5 L278.9,290 L281.4,283.8 L284.5,276.2 L287.6,286.5 L290.1,282.5 L293.2,286.9 L296.4,294 L298.9,293.1 L302,286.9 L305.1,289.8 L307.6,287.2 L312,288.1 L315.1,289 L317,288.8 L319.5,286.9 L322,285.6 L325.1,278.8 L328.2,271.9 L331.4,274.4 L333.9,274.4 L337,280 L340.1,273.1 L343.2,269.4 L345.1,267.5 L348.2,258.8 L353.2,253.8 L357,247.8 L360,251.2 L363.1,258.8 L365.6,271.2 L368.8,283.1 L371.9,284 L374.4,281.2 L377.5,283.1 L380.6,282.5 L383.1,281 L386.2,274.8 L389.4,275 L391.9,266.2 L394.4,253.8 L397.5,262.5 L400.6,272.2 L403.1,274 L406.2,275.2 L409.4,273.1 L412.5,278.1 L416.2,284.4 L420,289.8 L423.1,292.2 L426.2,285.6 L428.8,282.8 L431.9,282.5 L435,277.8 L438.1,282.5 L441.2,281.9 L443.8,266.9 L448.8,270 L452.5,270.6 L455,276.9 L458.1,280 L461.2,288.1 L463.8,286 L466.9,285.6 L469.4,289.4 L472.5,295 L475.6,303.1 L480,305.2 L484.4,306 L488,307.5 L490.5,307.2 L493,301.9 L496.1,306 L498.6,300.6 L501.8,296.9 L504.9,299 L508,300.6 L511.1,301.9 L513.6,303.1 L516.8,298.1 L519.2,303.1 L522.4,303.8 L524.9,304.4 L528,300 L529.2,295 L530.5,290 L533.6,268.8 L536.8,246.2 L539.9,240 L542.4,235.6 L545.5,238.1 L548.6,250.2 L551.8,247.2 L554.2,248.5 L557.4,244.4 L559.9,240 L563,239.4 L565.5,241.5 L568,251.2 L570.5,262.5 L573,276.2 L575.5,295 L578,303.8 L581.8,311.2 L586.1,318.1 L589.2,315.6 L594.2,318.1 L598,315 L600.5,314.8 L603.6,308.8 L606.1,304.4 L609.2,308.1 L611.8,311.9 L616,315 L619.8,316.5 L623.5,320.2 L626.6,319 L629.8,319.4 L632.2,316.9 L634.8,305 L637.9,296.2 L641,301.2 L646,299.4 L649.1,300.6 L652.2,303.1 L655.4,310.6 L658.5,308.8 L661.6,306.9 L664.1,309 L667.2,307.2 L671,295 L672.9,291.9 L675.8,296 L678.5,291.2 L681.6,288.5 L683.5,295 L685.4,300 L687.2,302.2 L690.4,300 L693.5,296.5 L696.6,295.2 L699.1,298.5 L701.6,296.9 L703.5,294 L707.9,276.9 L711,279 L713.5,283.8 L716,277.2 L719.1,279.4 L722.2,276.2 L725.4,274 L727.9,271 L731,269.4 L733.5,276 L736.6,279.4 L739.8,287.5 L742.2,294.4 L744,295 L747.8,296.2 L749.6,294.4 L754,286 L756.5,283.8 L759.6,284 L762.8,287.8 L768.4,287.8 L769.6,293.1 L770.9,296.9 L772.8,294.4 L774.6,288.8 L777.1,286 L780.2,290.6 L785.9,282.5 L790.9,284.8 L794.6,278.1 L797.8,281.2 L800.9,288.8 L803.4,280.6 L805.9,275.6 L808.4,283.1 L811.5,280 L815.2,286.2 L819.6,287.8 L822.1,290.2 L824.6,295 L826.5,300.6 L832.1,306.2 L835.2,303.8 L840.2,306.9 L844,308.1 L845.9,295 L850.2,285 L855.9,280.6 L860.9,275.6 L864,268.5 L867.1,275 L869.6,274.8 L872,280.6 L873.9,286.2 L876.4,292.5 L878.9,293.5 L881.4,291.5 L882.6,295 L884.5,302.5 L887,302.5 L890.1,306.2 L893.2,318.8 L897,318.5 L902,319 L904.5,316 L907,323.1 L910.1,327.2 L913.2,312.5 L916.4,302.5 L918.9,295 L921.4,295.6 L924.5,301.2 L927.6,308.5 L930.8,311.2 L933.9,307.2 L938.2,309.8 L944.5,309.4 L947,305 L949.5,295 L953.9,276.9 L957,277.2 L960.1,276 L962.6,280 L965.8,274.8 L970.8,272.5 L974.5,271 L977.6,264 L980.1,266 L982.6,275 L985.8,283.1 L987.6,295 L990.8,312.5 L993.9,331.9 L997.6,336.5 L999.5,335.6" fill="none" stroke="#000" stroke-width="0.8" stroke-linejoin="round"/>
<path d="M105.2,481.4 L105.2,481.4 L106.8,481.4 L107.8,480 L110.2,478.1 L113.4,474.4 L116.5,479 L119,480.6 L119.6,481.4 L122.1,481.4 L123.9,481.4 L124,481.2 L125.2,478.5 L126.5,480.6 L127.3,481.4 L128.4,481.4 L130.9,481.4 L132.1,481.4 L132.1,481.2 L134,474.4 L137.8,476.9 L140.2,477.8 L142.5,481.4 L142.8,481.4 L143.1,481.4 L145.2,478.8 L148.4,475.6 L151.5,470.6 L154.6,477.5 L156.9,481.4 L157.1,481.4 L159,481.4 L159.6,481.2 L159.7,481.4 L162.8,481.4 L164.9,481.4 L165.2,479.8 L167.1,481.2 L167.2,481.4 L170.2,481.4 L174,481.4 L177.1,481.4 L180.2,481.4 L182.1,481.4 L182.1,481.2 L184.6,477.8 L189,475.2 L192.1,480 L194.6,479.4 L197.8,480.2 L200.9,478.5 L204,477.2 L206.5,477.8 L209.3,481.4 L209.6,481.4 L211.3,481.4 L212.8,481 L215.2,478.5 L217.8,473.1 L220.9,478.5 L224,476.2 L227.1,468.8 L229.6,467.2 L232,467.2 L235.1,473.5 L238.2,479 L242,473.8 L247,467.5 L249.5,471.5 L252.6,473.1 L254.5,481.2 L254.6,481.4 L258.2,481.4 L259.9,481.4 L260.8,478.8 L264.5,475.6 L267.6,473.8 L270.1,474 L272.6,481.2 L272.7,481.4 L275.8,481.4 L278.9,481.4 L281.4,481.4 L284.5,481.4 L288.2,481.4 L289.7,481.4 L290.1,481 L290.5,481.4 L292.6,481.4 L295.8,481.4 L297.6,481.4 L300.1,481.4 L302,481.4 L303.9,481.4 L306.4,481.4 L308.2,481.4 L310.8,481.4 L313.9,481.4 L317,481.4 L322,481.4 L324.5,481.4 L330.6,481.4 L330.8,481.2 L330.8,481.4 L334.5,481.4 L339.5,481.4 L343.2,481.4 L348.2,481.4 L351.4,481.4 L353.9,481.4 L357,481.4 L360,481.4 L363.1,481.4 L365.6,481.4 L368.8,481.4 L371.9,481.4 L373.8,481.4 L375.6,481.4 L377.5,481.4 L380,481.4 L383.1,481.4 L386.2,481.4 L388.8,481.4 L392.5,481.4 L395,481.4 L398.1,481.4 L400.6,481.4 L403.8,481.4 L406.2,481.4 L409.4,481.4 L411.8,481.4 L411.9,481.2 L413.8,480.2 L415.6,481.2 L415.7,481.4 L418.1,481.4 L419.1,481.4 L420,477.2 L423.1,475.6 L426.2,474 L429.4,479 L432.5,479.4 L433.8,481.4 L435,481.4 L436,481.4 L437.5,478.8 L439.4,481.2 L439.5,481.4 L441.9,481.4 L446.2,481.4 L449.4,481.4 L452.5,481.4 L456.2,481.4 L458.8,481.4 L461.2,481.4 L463.8,481.4 L466.2,481.4 L466.2,481.2 L468.8,475 L473.1,463.8 L477.5,466.2 L481.9,468.8 L485,463.8 L488,467.5 L493,471.9 L497.4,472.8 L501.8,474.8 L504.2,465 L508,468.1 L510.5,464.4 L513.6,462.8 L516.1,476.9 L519.2,476 L521.8,472.8 L524.2,474 L526.1,479 L526.7,481.4 L527.8,481.4 L529.9,481.4 L532.2,481.4 L532.4,481.2 L536.1,476.5 L538,479.4 L539.2,481.2 L539.3,481.4 L541.8,481.4 L544.9,481.4 L546.8,481.4 L547.9,481.4 L548.6,478.1 L549.9,480 L550.7,481.4 L551.8,481.4 L552.5,481.4 L553.6,478.8 L555.4,481.4 L555.5,481.4 L559.2,481.4 L561.8,481.4 L565.5,481.4 L568,481.4 L570.4,481.4 L570.5,481.2 L574.2,465.6 L576.8,463.1 L579.9,456.5 L583.6,467.5 L586.8,469.8 L589.2,467.2 L591.8,457.5 L594.9,455.2 L598,457.5 L600.5,471.2 L603,476 L605.4,481.4 L606.1,481.4 L607.5,481.4 L608.6,480 L611.8,481 L613.6,477.5 L616,475 L617.9,474 L621,476.2 L623.5,470 L626.6,460.2 L631.6,461.9 L635.4,470 L638.5,474.4 L641,478.1 L643.5,478.5 L646.6,474.4 L649.1,474.4 L652.2,476.2 L655.4,471.2 L658.5,469.4 L661.6,459.4 L664.1,465 L666.6,470.6 L669.8,464.8 L672.9,471.9 L676,471.5 L678.5,480.6 L680,481.4 L681.6,481.4 L682.1,481.4 L684.1,478.1 L687.2,474 L690.4,474.8 L693.5,479.4 L696.6,479 L699.8,479.4 L702.9,476 L705.4,475.6 L708.5,478.1 L710.4,481.2 L710.4,481.4 L712.9,481.4 L716,481.4 L719.8,481.4 L722.9,481.4 L724.3,481.4 L724.8,480.6 L725.3,481.4 L726.6,481.4 L729.8,481.4 L733.5,481.4 L736.6,481.4 L737.3,481.4 L739.1,478.1 L741.6,479.4 L744,480.6 L747.1,481.4 L749,481.4 L753.4,481.4 L755.7,481.4 L756.5,480.2 L762.1,480.6 L765.9,475 L770.9,469 L775.9,481.2 L775.9,481.4 L780.2,481.4 L782.8,481.4 L785.9,481.4 L789,481.4 L791.5,481.4 L794.6,481.4 L795.4,481.4 L797.1,479 L799,481.2 L799.1,481.4 L803.4,481.4 L805.9,481.4 L808.4,481.4 L811.5,481.4 L815.9,481.4 L816.1,481.4 L817.8,477.2 L819.6,481.2 L819.7,481.4 L823.4,481.4 L825.3,481.4 L825.9,479.4 L826.9,481.4 L827.1,481.4 L829.6,481.4 L831,481.4 L832.1,479.4 L835.2,475.6 L838.4,475.6 L841.5,480.6 L841.9,481.4 L844,481.4 L847.1,481.4 L848.2,481.4 L849.6,475 L850.9,481.2 L850.9,481.4 L855.2,481.4 L857.6,481.4 L857.8,480.6 L858.3,481.4 L859,481.4 L861.5,481.4 L865.2,481.4 L865.7,481.4 L867.1,478.1 L868.5,481.4 L869,481.4 L870.2,481.4 L872,481.4 L875.8,481.4 L880,481.4 L880.1,481.2 L883.9,475.2 L887,476.2 L893.2,472.8 L895.8,479.4 L897.6,480.2 L900.1,476.2 L902.6,473.1 L905.8,475 L908.2,477.2 L912,481.2 L912.1,481.4 L915.1,481.4 L918.9,481.4 L922,481.4 L922,481.2 L925.1,470.6 L928.9,474.8 L931.4,481.2 L931.5,481.4 L933.9,481.4 L934.8,481.4 L936.4,476.2 L939.5,471.9 L943.2,475 L945.8,478.1 L950.1,478.1 L954.5,480.2 L959.5,480.2 L960.8,481.2 L960.8,481.4 L965.1,481.4 L968.2,481.4 L972,481.4 L976.4,481.4 L979.5,481.4 L982,481.4 L982.4,481.4 L985.1,477.8 L988.9,468.8 L992,469.4 L997,475 L1000,475.6 L1000,481.4 Z" fill="#ff0000"/>
<path d="M105.2,481.4 L105.2,483.8 L106.8,481.4 L107.8,481.4 L110.2,481.4 L113.4,481.4 L116.5,481.4 L119,481.4 L119.6,481.4 L122.1,484.8 L123.9,481.4 L124,481.4 L125.2,481.4 L126.5,481.4 L127.3,481.4 L128.4,482.5 L130.9,484 L132.1,481.4 L132.1,481.4 L134,481.4 L137.8,481.4 L140.2,481.4 L142.5,481.4 L142.8,481.9 L143.1,481.4 L145.2,481.4 L148.4,481.4 L151.5,481.4 L154.6,481.4 L156.9,481.4 L157.1,481.9 L159,481.4 L159.6,481.4 L159.7,481.4 L162.8,490.2 L164.9,481.4 L165.2,481.4 L167.1,481.4 L167.2,481.4 L170.2,486.2 L174,491.2 L177.1,491.5 L180.2,486.2 L182.1,481.4 L182.1,481.4 L184.6,481.4 L189,481.4 L192.1,481.4 L194.6,481.4 L197.8,481.4 L200.9,481.4 L204,481.4 L206.5,481.4 L209.3,481.4 L209.6,481.9 L211.3,481.4 L212.8,481.4 L215.2,481.4 L217.8,481.4 L220.9,481.4 L224,481.4 L227.1,481.4 L229.6,481.4 L232,481.4 L235.1,481.4 L238.2,481.4 L242,481.4 L247,481.4 L249.5,481.4 L252.6,481.4 L254.5,481.4 L254.6,481.4 L258.2,486.9 L259.9,481.4 L260.8,481.4 L264.5,481.4 L267.6,481.4 L270.1,481.4 L272.6,481.4 L272.7,481.4 L275.8,486.2 L278.9,483.1 L281.4,481.5 L284.5,483.1 L288.2,482.8 L289.7,481.4 L290.1,481.4 L290.5,481.4 L292.6,483.8 L295.8,484.8 L297.6,482.2 L300.1,482.5 L302,489.4 L303.9,483.1 L306.4,482.5 L308.2,492.5 L310.8,501.9 L313.9,496.9 L317,498.1 L322,486 L324.5,488.8 L330.6,481.4 L330.8,481.4 L330.8,481.4 L334.5,488.1 L339.5,496.2 L343.2,494.4 L348.2,495.6 L351.4,495 L353.9,499 L357,490.6 L360,486.9 L363.1,484.4 L365.6,489.8 L368.8,485.6 L371.9,485.2 L373.8,481.9 L375.6,482.5 L377.5,492.5 L380,491.9 L383.1,496.9 L386.2,493.8 L388.8,491 L392.5,494 L395,493.8 L398.1,490 L400.6,486.9 L403.8,496.2 L406.2,492.2 L409.4,493.1 L411.8,481.4 L411.9,481.4 L413.8,481.4 L415.6,481.4 L415.7,481.4 L418.1,485.6 L419.1,481.4 L420,481.4 L423.1,481.4 L426.2,481.4 L429.4,481.4 L432.5,481.4 L433.8,481.4 L435,483.1 L436,481.4 L437.5,481.4 L439.4,481.4 L439.5,481.4 L441.9,484.4 L446.2,481.9 L449.4,485 L452.5,486.5 L456.2,484.8 L458.8,490 L461.2,490 L463.8,485.2 L466.2,481.4 L466.2,481.4 L468.8,481.4 L473.1,481.4 L477.5,481.4 L481.9,481.4 L485,481.4 L488,481.4 L493,481.4 L497.4,481.4 L501.8,481.4 L504.2,481.4 L508,481.4 L510.5,481.4 L513.6,481.4 L516.1,481.4 L519.2,481.4 L521.8,481.4 L524.2,481.4 L526.1,481.4 L526.7,481.4 L527.8,485.6 L529.9,483.8 L532.2,481.4 L532.4,481.4 L536.1,481.4 L538,481.4 L539.2,481.4 L539.3,481.4 L541.8,498.1 L544.9,494.4 L546.8,486.9 L547.9,481.4 L548.6,481.4 L549.9,481.4 L550.7,481.4 L551.8,483.1 L552.5,481.4 L553.6,481.4 L555.4,481.4 L555.5,481.5 L559.2,491.2 L561.8,489 L565.5,491.2 L568,488.1 L570.4,481.4 L570.5,481.4 L574.2,481.4 L576.8,481.4 L579.9,481.4 L583.6,481.4 L586.8,481.4 L589.2,481.4 L591.8,481.4 L594.9,481.4 L598,481.4 L600.5,481.4 L603,481.4 L605.4,481.4 L606.1,483.1 L607.5,481.4 L608.6,481.4 L611.8,481.4 L613.6,481.4 L616,481.4 L617.9,481.4 L621,481.4 L623.5,481.4 L626.6,481.4 L631.6,481.4 L635.4,481.4 L638.5,481.4 L641,481.4 L643.5,481.4 L646.6,481.4 L649.1,481.4 L652.2,481.4 L655.4,481.4 L658.5,481.4 L661.6,481.4 L664.1,481.4 L666.6,481.4 L669.8,481.4 L672.9,481.4 L676,481.4 L678.5,481.4 L680,481.4 L681.6,482.2 L682.1,481.4 L684.1,481.4 L687.2,481.4 L690.4,481.4 L693.5,481.4 L696.6,481.4 L699.8,481.4 L702.9,481.4 L705.4,481.4 L708.5,481.4 L710.4,481.4 L710.4,481.4 L712.9,486.2 L716,492.5 L719.8,488.8 L722.9,483.8 L724.3,481.4 L724.8,481.4 L725.3,481.4 L726.6,483.1 L729.8,484.4 L733.5,486.9 L736.6,482.5 L737.3,481.4 L739.1,481.4 L741.6,481.4 L744,481.4 L747.1,481.4 L749,481.9 L753.4,484.8 L755.7,481.4 L756.5,481.4 L762.1,481.4 L765.9,481.4 L770.9,481.4 L775.9,481.4 L775.9,481.4 L780.2,494.4 L782.8,486.2 L785.9,496.2 L789,486.2 L791.5,492.8 L794.6,482.5 L795.4,481.4 L797.1,481.4 L799,481.4 L799.1,481.4 L803.4,492.8 L805.9,483.1 L808.4,492.2 L811.5,486.9 L815.9,481.9 L816.1,481.4 L817.8,481.4 L819.6,481.4 L819.7,481.4 L823.4,488.1 L825.3,481.4 L825.9,481.4 L826.9,481.4 L827.1,481.9 L829.6,484 L831,481.4 L832.1,481.4 L835.2,481.4 L838.4,481.4 L841.5,481.4 L841.9,481.4 L844,485 L847.1,486.2 L848.2,481.4 L849.6,481.4 L850.9,481.4 L850.9,481.4 L855.2,494 L857.6,481.4 L857.8,481.4 L858.3,481.4 L859,482.5 L861.5,495.6 L865.2,482.5 L865.7,481.4 L867.1,481.4 L868.5,481.4 L869,482.5 L870.2,485.2 L872,482.5 L875.8,487.5 L880,481.4 L880.1,481.4 L883.9,481.4 L887,481.4 L893.2,481.4 L895.8,481.4 L897.6,481.4 L900.1,481.4 L902.6,481.4 L905.8,481.4 L908.2,481.4 L912,481.4 L912.1,481.4 L915.1,486.9 L918.9,491.9 L922,481.4 L922,481.4 L925.1,481.4 L928.9,481.4 L931.4,481.4 L931.5,481.4 L933.9,484.4 L934.8,481.4 L936.4,481.4 L939.5,481.4 L943.2,481.4 L945.8,481.4 L950.1,481.4 L954.5,481.4 L959.5,481.4 L960.8,481.4 L960.8,481.4 L965.1,490 L968.2,485.6 L972,490 L976.4,494.8 L979.5,486.2 L982,481.9 L982.4,481.4 L985.1,481.4 L988.9,481.4 L992,481.4 L997,481.4 L1000,481.4 L1000,481.4 Z" fill="#0000ff"/>
<path d="M105.2,483.8 L107.8,480 L110.2,478.1 L113.4,474.4 L116.5,479 L119,480.6 L122.1,484.8 L124,481.2 L125.2,478.5 L126.5,480.6 L128.4,482.5 L130.9,484 L132.1,481.2 L134,474.4 L137.8,476.9 L140.2,477.8 L142.8,481.9 L145.2,478.8 L148.4,475.6 L151.5,470.6 L154.6,477.5 L157.1,481.9 L159.6,481.2 L162.8,490.2 L165.2,479.8 L167.1,481.2 L170.2,486.2 L174,491.2 L177.1,491.5 L180.2,486.2 L182.1,481.2 L184.6,477.8 L189,475.2 L192.1,480 L194.6,479.4 L197.8,480.2 L200.9,478.5 L204,477.2 L206.5,477.8 L209.6,481.9 L212.8,481 L215.2,478.5 L217.8,473.1 L220.9,478.5 L224,476.2 L227.1,468.8 L229.6,467.2 L232,467.2 L235.1,473.5 L238.2,479 L242,473.8 L247,467.5 L249.5,471.5 L252.6,473.1 L254.5,481.2 L258.2,486.9 L260.8,478.8 L264.5,475.6 L267.6,473.8 L270.1,474 L272.6,481.2 L275.8,486.2 L278.9,483.1 L281.4,481.5 L284.5,483.1 L288.2,482.8 L290.1,481 L292.6,483.8 L295.8,484.8 L297.6,482.2 L300.1,482.5 L302,489.4 L303.9,483.1 L306.4,482.5 L308.2,492.5 L310.8,501.9 L313.9,496.9 L317,498.1 L322,486 L324.5,488.8 L330.8,481.2 L334.5,488.1 L339.5,496.2 L343.2,494.4 L348.2,495.6 L351.4,495 L353.9,499 L357,490.6 L360,486.9 L363.1,484.4 L365.6,489.8 L368.8,485.6 L371.9,485.2 L373.8,481.9 L375.6,482.5 L377.5,492.5 L380,491.9 L383.1,496.9 L386.2,493.8 L388.8,491 L392.5,494 L395,493.8 L398.1,490 L400.6,486.9 L403.8,496.2 L406.2,492.2 L409.4,493.1 L411.9,481.2 L413.8,480.2 L415.6,481.2 L418.1,485.6 L420,477.2 L423.1,475.6 L426.2,474 L429.4,479 L432.5,479.4 L435,483.1 L437.5,478.8 L439.4,481.2 L441.9,484.4 L446.2,481.9 L449.4,485 L452.5,486.5 L456.2,484.8 L458.8,490 L461.2,490 L463.8,485.2 L466.2,481.2 L468.8,475 L473.1,463.8 L477.5,466.2 L481.9,468.8 L485,463.8 L488,467.5 L493,471.9 L497.4,472.8 L501.8,474.8 L504.2,465 L508,468.1 L510.5,464.4 L513.6,462.8 L516.1,476.9 L519.2,476 L521.8,472.8 L524.2,474 L526.1,479 L527.8,485.6 L529.9,483.8 L532.4,481.2 L536.1,476.5 L538,479.4 L539.2,481.2 L541.8,498.1 L544.9,494.4 L546.8,486.9 L548.6,478.1 L549.9,480 L551.8,483.1 L553.6,478.8 L555.5,481.5 L559.2,491.2 L561.8,489 L565.5,491.2 L568,488.1 L570.5,481.2 L574.2,465.6 L576.8,463.1 L579.9,456.5 L583.6,467.5 L586.8,469.8 L589.2,467.2 L591.8,457.5 L594.9,455.2 L598,457.5 L600.5,471.2 L603,476 L606.1,483.1 L608.6,480 L611.8,481 L613.6,477.5 L616,475 L617.9,474 L621,476.2 L623.5,470 L626.6,460.2 L631.6,461.9 L635.4,470 L638.5,474.4 L641,478.1 L643.5,478.5 L646.6,474.4 L649.1,474.4 L652.2,476.2 L655.4,471.2 L658.5,469.4 L661.6,459.4 L664.1,465 L666.6,470.6 L669.8,464.8 L672.9,471.9 L676,471.5 L678.5,480.6 L681.6,482.2 L684.1,478.1 L687.2,474 L690.4,474.8 L693.5,479.4 L696.6,479 L699.8,479.4 L702.9,476 L705.4,475.6 L708.5,478.1 L710.4,481.2 L712.9,486.2 L716,492.5 L719.8,488.8 L722.9,483.8 L724.8,480.6 L726.6,483.1 L729.8,484.4 L733.5,486.9 L736.6,482.5 L739.1,478.1 L741.6,479.4 L744,480.6 L749,481.9 L753.4,484.8 L756.5,480.2 L762.1,480.6 L765.9,475 L770.9,469 L775.9,481.2 L780.2,494.4 L782.8,486.2 L785.9,496.2 L789,486.2 L791.5,492.8 L794.6,482.5 L797.1,479 L799,481.2 L803.4,492.8 L805.9,483.1 L808.4,492.2 L811.5,486.9 L815.9,481.9 L817.8,477.2 L819.6,481.2 L823.4,488.1 L825.9,479.4 L827.1,481.9 L829.6,484 L832.1,479.4 L835.2,475.6 L838.4,475.6 L841.5,480.6 L844,485 L847.1,486.2 L849.6,475 L850.9,481.2 L855.2,494 L857.8,480.6 L859,482.5 L861.5,495.6 L865.2,482.5 L867.1,478.1 L869,482.5 L870.2,485.2 L872,482.5 L875.8,487.5 L880.1,481.2 L883.9,475.2 L887,476.2 L893.2,472.8 L895.8,479.4 L897.6,480.2 L900.1,476.2 L902.6,473.1 L905.8,475 L908.2,477.2 L912,481.2 L915.1,486.9 L918.9,491.9 L922,481.2 L925.1,470.6 L928.9,474.8 L931.4,481.2 L933.9,484.4 L936.4,476.2 L939.5,471.9 L943.2,475 L945.8,478.1 L950.1,478.1 L954.5,480.2 L959.5,480.2 L960.8,481.2 L965.1,490 L968.2,485.6 L972,490 L976.4,494.8 L979.5,486.2 L982,481.9 L985.1,477.8 L988.9,468.8 L992,469.4 L997,475 L1000,475.6" fill="none" stroke="#000" stroke-width="0.8" stroke-linejoin="round"/>
<path d="M105 741.5V721.2 M107.8 741.5V735 M110.7 741.5V733.5 M113.6 741.5V732.5 M116.5 741.5V699.4 M119.4 741.5V736.9 M122.3 741.5V728.1 M125.2 741.5V722.2 M128.1 741.5V730 M131 741.5V722.5 M133.9 741.5V710.6 M136.8 741.5V721.2 M139.7 741.5V730.6 M142.6 741.5V708.8 M145.5 741.5V690 M148.4 741.5V684.8 M151.3 741.5V734.8 M154.2 741.5V721.2 M157.1 741.5V713.8 M160 741.5V734.8 M162.9 741.5V707.8 M165.8 741.5V696.9 M168.7 741.5V693.1 M171.6 741.5V718.8 M174.5 741.5V712.5 M177.4 741.5V718.8 M180.3 741.5V718.8 M183.2 741.5V695 M186.1 741.5V720 M189 741.5V718.8 M191.9 741.5V740 M194.8 741.5V740 M197.7 741.5V738.1 M203.5 741.5V704.4 M206.4 741.5V719.4 M209.3 741.5V701.2 M212.2 741.5V724.4 M215.1 741.5V730.6 M218 741.5V713.8 M220.9 741.5V725 M223.7 741.5V735 M226.6 741.5V718.8 M229.5 741.5V725 M232.4 741.5V726.2 M235.3 741.5V702.5 M238.2 741.5V722.2 M241.1 741.5V696.2 M244 741.5V717.5 M246.9 741.5V721.2 M249.8 741.5V724.4 M252.7 741.5V738.8 M255.6 741.5V740 M258.5 741.5V737.5 M261.4 741.5V734.8 M267.2 741.5V733.5 M270.1 741.5V727.5 M273 741.5V739 M275.9 741.5V739.8 M278.8 741.5V739.4 M281.7 741.5V734.8 M284.6 741.5V739.4 M287.5 741.5V740 M290.4 741.5V739 M296.2 741.5V739 M299.1 741.5V739 M339.6 741.5V739.4 M342.5 741.5V737.5 M345.4 741.5V740 M348.3 741.5V726.2 M351.2 741.5V740 M354.1 741.5V739.4 M365.7 741.5V739 M374.4 741.5V739.8 M377.3 741.5V739 M380.2 741.5V736.9 M383.1 741.5V735 M386 741.5V738.8 M388.9 741.5V736 M391.8 741.5V726.2 M394.7 741.5V738.1 M397.6 741.5V737.5 M406.3 741.5V733.5 M409.2 741.5V740 M412.1 741.5V736.9 M415 741.5V724.4 M417.9 741.5V725 M420.8 741.5V718.1 M423.7 741.5V689 M426.6 741.5V730.6 M429.5 741.5V722.2 M432.4 741.5V702.5 M435.3 741.5V740 M438.2 741.5V738.8 M444 741.5V740 M446.9 741.5V710.6 M449.8 741.5V698.1 M452.6 741.5V704.8 M455.5 741.5V729.8 M458.4 741.5V696.2 M461.3 741.5V727.5 M464.2 741.5V696.2 M467.1 741.5V733.8 M470 741.5V720.6 M472.9 741.5V728.5 M475.8 741.5V727.5 M478.7 741.5V723.8 M481.6 741.5V716.2 M484.5 741.5V732.5 M487.4 741.5V728.1 M490.3 741.5V708.5 M493.2 741.5V719 M496.1 741.5V731.5 M499 741.5V725 M501.9 741.5V719 M504.8 741.5V722.2 M507.7 741.5V722.8 M510.6 741.5V724.4 M513.5 741.5V714.8 M516.4 741.5V718.1 M519.3 741.5V711.9 M522.2 741.5V716 M525.1 741.5V725.2 M528 741.5V725.2 M530.9 741.5V716.9 M533.8 741.5V731.2 M536.7 741.5V732.5 M539.6 741.5V739.8 M548.3 741.5V740 M551.2 741.5V703.5 M554.1 741.5V718.1 M557 741.5V721.2 M559.9 741.5V729.4 M562.8 741.5V725 M565.7 741.5V715 M568.6 741.5V722.2 M571.4 741.5V725 M574.3 741.5V733.8 M577.2 741.5V720 M580.1 741.5V722.5 M583 741.5V712.8 M585.9 741.5V719 M588.8 741.5V722.2 M600.4 741.5V737.8 M614.9 741.5V735 M617.8 741.5V730.6 M620.7 741.5V731.2 M623.6 741.5V727.5 M626.5 741.5V727.2 M629.4 741.5V731.2 M635.2 741.5V736.5 M638.1 741.5V730.2 M641 741.5V738.8 M643.9 741.5V735.6 M646.8 741.5V734.8 M649.7 741.5V711.9 M652.6 741.5V728.1 M655.5 741.5V723.5 M658.4 741.5V716 M661.3 741.5V733.5 M664.2 741.5V735 M667.1 741.5V733.5 M670 741.5V719 M672.9 741.5V735.6 M678.7 741.5V735 M684.5 741.5V733.5 M687.3 741.5V740.2 M690.2 741.5V739 M693.1 741.5V727.5 M696 741.5V738.1 M698.9 741.5V719 M701.8 741.5V734.8 M704.7 741.5V731.5 M707.6 741.5V735.6 M710.5 741.5V735 M719.2 741.5V734.8 M722.1 741.5V730.6 M725 741.5V721.2 M727.9 741.5V719.4 M730.8 741.5V723.1 M733.7 741.5V713.1 M736.6 741.5V711.9 M739.5 741.5V705.6 M742.4 741.5V718.1 M745.3 741.5V718.8 M748.2 741.5V730 M754 741.5V736.9 M756.9 741.5V656.9 M759.8 741.5V717.2 M762.7 741.5V711.9 M765.6 741.5V718.8 M768.5 741.5V726.2 M771.4 741.5V717.5 M774.3 741.5V719.8 M777.2 741.5V695 M780.1 741.5V732.5 M783 741.5V719 M785.9 741.5V739 M788.8 741.5V728.5 M791.7 741.5V733.8 M794.6 741.5V730.6 M797.5 741.5V715 M800.4 741.5V735 M803.2 741.5V720 M806.1 741.5V711.9 M809 741.5V686 M811.9 741.5V735 M814.8 741.5V729.4 M817.7 741.5V738.1 M820.6 741.5V724.4 M823.5 741.5V728.8 M826.4 741.5V723.1 M829.3 741.5V725 M832.2 741.5V719 M835.1 741.5V725 M838 741.5V725 M840.9 741.5V726.5 M843.8 741.5V720 M846.7 741.5V721.9 M849.6 741.5V699.4 M852.5 741.5V736.9 M858.3 741.5V731.9 M861.2 741.5V727.5 M864.1 741.5V723.1 M867 741.5V724.4 M869.9 741.5V733.8 M872.8 741.5V697.2 M875.7 741.5V710 M878.6 741.5V705 M881.5 741.5V695 M884.4 741.5V711.9 M887.3 741.5V706.9 M890.2 741.5V719 M893.1 741.5V722.2 M896 741.5V708.8 M898.9 741.5V699.4 M901.8 741.5V691.9 M904.7 741.5V724.4 M907.6 741.5V718.1 M910.5 741.5V698.1 M913.4 741.5V715.6 M916.2 741.5V721 M919.1 741.5V715 M922 741.5V721 M924.9 741.5V691 M927.8 741.5V720 M930.7 741.5V703.5 M933.6 741.5V688.1 M936.5 741.5V686.9 M939.4 741.5V721.2 M942.3 741.5V726.2 M945.2 741.5V693.1 M948.1 741.5V698.1 M951 741.5V724.4 M953.9 741.5V729.4 M956.8 741.5V718.1 M959.7 741.5V727.5 M965.5 741.5V712.5 M968.4 741.5V691 M971.3 741.5V691 M974.2 741.5V699.4 M977.1 741.5V706 M980 741.5V673.1 M982.9 741.5V695.2 M985.8 741.5V691.9 M988.7 741.5V686.9 M991.6 741.5V686.9 M994.5 741.5V708.1" stroke="#ff0000" stroke-width="2.0" fill="none"/>
<path d="M111.5,724.8 C111.9,725.3 113,728.1 114,728.1 C115,728.2 116.6,725.7 117.8,725 C118.9,724.3 120,724 120.9,723.8 C121.7,723.5 122,723 122.8,723.8 C123.5,724.5 124.3,728.7 125.2,728.5 C126.2,728.3 127.4,723.7 128.4,722.5 C129.3,721.3 129.9,721.3 130.9,721.2 C131.8,721.2 133.1,722.6 134,722.2 C134.9,721.9 135.6,721 136.5,719.4 C137.4,717.8 138.6,714.6 139.6,712.5 C140.7,710.4 141.7,707 142.8,706.5 C143.8,706 144.8,709.5 145.9,709.8 C146.9,710 148.1,707.8 149,707.8 C149.9,707.8 150.7,708.1 151.5,709.8 C152.3,711.4 153.2,715.3 154,717.5 C154.8,719.7 155.6,723.4 156.5,723.1 C157.4,722.8 158.6,717.7 159.6,715.6 C160.7,713.5 161.7,711.5 162.8,710.6 C163.8,709.8 164.8,711.4 165.9,710.6 C166.9,709.9 168,706.5 169,706.2 C170,706 171.1,708.4 172.1,709.4 C173.2,710.4 174.1,711.8 175.2,712.2 C176.4,712.7 177.9,712 179,712.2 C180.1,712.5 181.1,712.9 182.1,713.8 C183.2,714.6 184.1,716 185.2,717.5 C186.4,719 188,720.4 189,722.5 C190,724.6 190.6,727.7 191.5,730 C192.4,732.3 193.6,735.7 194.6,736.2 C195.7,736.8 196.7,734.4 197.8,733.1 C198.8,731.8 199.8,730.5 200.9,728.5 C201.9,726.5 203,723.1 204,721.2 C205,719.4 206.2,718.4 207.1,717.5 C208.1,716.6 208.7,715.9 209.6,716 C210.6,716.1 211.7,717.5 212.8,718.1 C213.8,718.8 214.9,718.9 215.9,720 C216.8,721.1 217.3,724.3 218.4,725 C219.4,725.7 221.2,724.2 222.1,724 C223.1,723.8 223.3,723.7 224,724 C224.7,724.3 225.6,726.1 226.5,725.6 C227.4,725.2 228.7,722.1 229.6,721.2 C230.5,720.4 231,721.7 232,720.6 C233,719.6 234.2,716.5 235.8,715 C237.3,713.5 239.9,711.7 241.4,711.9 C242.8,712.1 243.5,714.9 244.5,716.2 C245.5,717.6 246.6,718 247.6,720 C248.7,722 249.6,725.8 250.8,728.1 C251.9,730.4 253.1,732.1 254.5,733.8 C255.9,735.4 257.5,737.6 258.9,738.1 C260.2,738.6 261.5,737.4 262.6,736.9 C263.8,736.4 264.7,735.1 265.8,735 C266.8,734.9 267.6,736.1 268.9,736.2 C270.1,736.4 271.9,735.8 273.2,736 C274.6,736.2 275.9,737 277,737.5 C278.1,738 278.9,738.8 280.1,739 C281.4,739.2 283.2,738.9 284.5,739 C285.8,739.1 286.4,739.6 287.6,739.8 C288.9,739.9 290.4,740 292,740 C293.6,740 295.3,739.8 297,739.8 C298.7,739.8 300.3,739.8 302,740 C303.7,740.2 302,740.8 307,741 C312,741.2 327,741.2 332,741 C337,740.8 335.5,740.2 337,739.8 C338.5,739.3 339.7,738.6 340.8,738.1 C341.8,737.6 342.2,737.1 343.2,736.9 C344.3,736.7 345.3,736.7 347,736.9 C348.7,737 351.7,737.2 353.2,737.8 C354.8,738.3 355.2,739.5 356.4,740 C357.5,740.5 358.1,740.5 360,740.6 C361.9,740.7 365.4,740.8 367.5,740.6 C369.6,740.5 371,740.2 372.5,739.8 C374,739.3 375,738.5 376.2,738.1 C377.5,737.7 378.9,737.6 380,737.2 C381.1,736.9 382.1,736.7 383.1,736.2 C384.2,735.8 385.1,735 386.2,734.8 C387.4,734.5 388.8,734.7 390,734.8 C391.2,734.8 392.5,734.9 393.8,735.2 C395,735.6 396.2,736.4 397.5,736.9 C398.8,737.4 399.8,737.9 401.2,738.1 C402.7,738.3 404.8,738.8 406.2,738.1 C407.7,737.5 408.8,735.7 410,734.4 C411.2,733 412.5,732.6 413.8,730 C415,727.4 416.4,720.7 417.5,718.5 C418.6,716.3 419.6,717.3 420.6,716.9 C421.7,716.5 422.8,716.7 423.8,716 C424.7,715.3 425.3,712.2 426.2,712.5 C427.2,712.8 428.4,715.3 429.4,717.5 C430.3,719.7 430.9,723.9 431.9,725.6 C432.8,727.4 434,727.2 435,728.1 C436,729.1 437.1,730.2 438.1,731.2 C439.2,732.3 440.3,734.8 441.2,734.4 C442.2,734 442.9,730.8 443.8,728.8 C444.6,726.7 445.3,723.8 446.2,721.9 C447.2,720 448.3,719.9 449.4,717.5 C450.4,715.1 451.5,708.8 452.5,707.8 C453.5,706.7 454.7,710.4 455.6,711 C456.6,711.6 457.2,710.7 458.1,711.5 C459.1,712.3 460.3,714.9 461.2,715.6 C462.2,716.3 462.8,714.7 463.8,715.6 C464.7,716.5 465.8,720.1 466.9,721 C467.9,721.9 469,720.1 470,721 C471,721.9 472.1,725.8 473.1,726.2 C474.2,726.7 475.2,723.9 476.2,723.8 C477.3,723.6 478.4,725.1 479.4,725.2 C480.3,725.4 480.9,725.2 481.9,724.8 C482.8,724.2 484,722.7 485,722.2 C486,721.8 487,721.6 488,721.9 C489,722.2 489.8,724.1 491.1,724 C492.5,723.9 494.5,721.1 496.1,721.2 C497.8,721.4 499.8,724.6 501.1,725 C502.5,725.4 503,724.4 504.2,723.8 C505.5,723.1 507.5,721.7 508.6,721.2 C509.8,720.8 510.1,721.5 511.1,721 C512.2,720.5 513.7,718.8 514.9,718.1 C516,717.5 517,717.2 518,717.2 C519,717.2 520,717.8 521.1,718.1 C522.3,718.5 523.7,718.6 524.9,719.4 C526,720.1 527,721.4 528,722.5 C529,723.6 530.1,725.1 531.1,726.2 C532.2,727.4 533.2,728.3 534.2,729.4 C535.3,730.4 536,730.9 537.4,732.5 C538.7,734.1 541,738.8 542.4,739 C543.7,739.2 544.4,735.6 545.5,733.8 C546.6,731.9 548,729.8 549.2,728.1 C550.5,726.5 551.8,725.3 553,724 C554.2,722.7 555.5,720.5 556.8,720.2 C558,720 559.2,721.8 560.5,722.2 C561.8,722.7 563,722.5 564.2,722.8 C565.5,723 566.9,723.8 568,724 C569.1,724.2 570.1,723.8 571.1,724 C572.2,724.2 573.1,725.2 574.2,725 C575.4,724.8 577,723.2 578,722.8 C579,722.3 579.6,722.8 580.5,722.2 C581.4,721.7 582.6,719.1 583.6,719.4 C584.7,719.6 585.7,722.4 586.8,723.8 C587.8,725.1 588.8,726.2 589.9,727.8 C590.9,729.3 591.8,731.1 593,733.1 C594.2,735.2 595.7,738.8 597.4,740 C599,741.2 601.1,740.2 603,740.2 C604.9,740.3 607,740.8 608.6,740.2 C610.3,739.7 611.8,737.6 613,736.9 C614.2,736.1 614.9,736.5 616,735.6 C617.1,734.8 618.5,732.8 619.8,731.9 C621,730.9 622.4,730.4 623.5,730 C624.6,729.6 625.6,729.6 626.6,729.8 C627.7,729.9 628.6,730.2 629.8,730.6 C630.9,731.1 632.4,731.9 633.5,732.5 C634.6,733.1 635.5,733.5 636.6,734 C637.8,734.5 639.2,736.2 640.4,735.6 C641.5,735.1 642.4,731.8 643.5,730.6 C644.6,729.5 646,729.8 647.2,728.8 C648.5,727.7 649.9,725.4 651,724.4 C652.1,723.3 653.2,722.4 654.1,722.5 C655.1,722.6 655.8,723.9 656.6,724.8 C657.5,725.6 658.2,727.1 659.1,727.8 C660.1,728.4 661.3,728.3 662.2,728.5 C663.2,728.7 663.8,728.2 664.8,728.8 C665.7,729.3 666.8,731.2 667.9,731.9 C668.9,732.5 670,732.5 671,732.8 C672,733 673.1,733 674.1,733.5 C675.2,734 676.2,734.9 677.2,735.6 C678.3,736.3 679.2,737.4 680.4,737.8 C681.5,738.1 683,738 684.1,737.8 C685.3,737.5 686.1,736.7 687.2,736.2 C688.4,735.8 689.9,735.6 691,735 C692.1,734.4 692.9,733.3 694.1,732.5 C695.4,731.7 697.1,730.5 698.5,730.2 C699.9,730 701.2,730.9 702.2,731 C703.3,731.1 703.7,730.3 704.8,731 C705.8,731.7 707.1,734 708.5,735 C709.9,736 711.6,736.7 712.9,736.9 C714.1,737 714.9,736.7 716,736 C717.1,735.3 718.7,733.6 719.8,732.5 C720.8,731.4 721.2,730.5 722.2,729.4 C723.3,728.2 724.9,727.1 726,725.6 C727.1,724.2 728,722.2 729.1,720.6 C730.3,719.1 731.6,717.3 732.9,716.2 C734.1,715.2 735.6,714.8 736.6,714.4 C737.7,714 738.3,713.7 739.1,714 C740,714.3 740.8,715.5 741.6,716.2 C742.4,717 743.3,717.7 744,718.5 C744.7,719.3 745.1,719.5 745.9,721.2 C746.6,723 747.5,729.6 748.4,728.8 C749.2,727.9 749.9,718.5 750.9,716.2 C751.8,714 753.1,715.5 754,715 C754.9,714.5 755.6,714.3 756.5,713.1 C757.4,711.9 758.6,708.9 759.6,707.8 C760.7,706.6 761.7,704.5 762.8,706.2 C763.8,708 764.8,716.1 765.9,718.1 C766.9,720.1 768.1,718.6 769,718.1 C769.9,717.6 770.6,715 771.5,715 C772.4,715 773.7,717.7 774.6,718.1 C775.6,718.5 776.2,716.9 777.1,717.5 C778.1,718.1 779.3,720.9 780.2,721.9 C781.2,722.8 781.8,721.7 782.8,723.1 C783.7,724.6 784.7,729.5 785.9,730.6 C787,731.8 788.5,730.3 789.6,730 C790.8,729.7 791.4,729.2 792.8,728.8 C794.1,728.3 796.5,728.1 797.8,727.2 C799,726.4 799.3,726 800.2,723.8 C801.2,721.5 802.4,714.8 803.4,713.8 C804.3,712.7 804.9,716.7 805.9,717.2 C806.8,717.8 808,716.4 809,716.9 C810,717.3 811.1,719.1 812.1,720 C813.2,720.9 814.3,720.7 815.2,722.5 C816.2,724.3 816.7,729.9 817.8,731 C818.8,732.1 820.2,729.8 821.5,729 C822.8,728.2 824.1,727.2 825.2,726.5 C826.4,725.8 827.3,725.2 828.4,725 C829.4,724.8 830.4,725.1 831.5,725 C832.6,724.9 834,724.6 835.2,724.4 C836.5,724.2 838,724 839,723.8 C840,723.5 840.7,724.1 841.5,723.1 C842.3,722.2 843,718.5 844,718.1 C845,717.7 846.5,719.6 847.8,720.6 C849,721.7 850.2,723.3 851.5,724.4 C852.8,725.4 854.1,725.6 855.2,726.9 C856.4,728.1 857.3,731.5 858.4,731.9 C859.4,732.3 860.5,729.9 861.5,729.4 C862.5,728.9 863.7,729.9 864.6,728.8 C865.6,727.6 865.9,724.8 867.1,722.5 C868.4,720.2 870.7,717.3 872,715 C873.3,712.7 874.1,710.5 875.1,708.8 C876.2,707 877.2,704.9 878.2,704.4 C879.3,703.9 880.3,705.1 881.4,705.6 C882.4,706.1 883.5,706.7 884.5,707.5 C885.5,708.3 886.6,709.5 887.6,710.6 C888.7,711.8 889.8,714.2 890.8,714.4 C891.7,714.6 892.4,712.7 893.2,711.9 C894.1,711 894.9,709.9 895.8,709.4 C896.6,708.9 897.3,708.9 898.2,708.8 C899.2,708.6 900.3,709.1 901.4,708.8 C902.4,708.4 903.6,706.8 904.5,706.9 C905.4,707 906.1,707.9 907,709.4 C907.9,710.8 909.1,714.9 910.1,715.6 C911.2,716.4 912.1,713.9 913.2,713.8 C914.4,713.6 916,714.8 917,714.8 C918,714.8 918.5,714 919.5,713.8 C920.5,713.5 922.2,713.9 923.2,713.1 C924.3,712.4 924.9,710.9 925.8,709.4 C926.6,707.8 927.4,705.5 928.2,703.8 C929.1,702 929.9,698.8 930.8,698.8 C931.6,698.7 932.3,702.4 933.2,703.5 C934.2,704.6 935.3,705.2 936.4,705.2 C937.4,705.3 938.5,703.6 939.5,703.8 C940.5,703.9 941.6,704.6 942.6,706.2 C943.7,707.9 944.8,712.3 945.8,713.8 C946.7,715.2 947.4,714.8 948.2,714.8 C949.1,714.8 949.9,713 950.8,713.8 C951.6,714.5 952.2,717.1 953.2,719.4 C954.3,721.7 955.9,727 957,727.5 C958.1,728 959.2,724.3 960.1,722.5 C961.1,720.7 961.8,718.4 962.6,716.9 C963.5,715.3 964.3,714.6 965.1,713.1 C966,711.7 966.7,710.2 967.6,708.1 C968.6,706 969.6,703.2 970.8,700.6 C971.9,698 973.1,693.6 974.5,692.5 C975.9,691.4 977.6,694 978.9,693.8 C980.1,693.5 980.9,692.3 982,691.2 C983.1,690.2 984.6,686.4 985.8,687.2 C986.9,688.1 987.8,693.5 988.9,696.2 C989.9,699 991,700.6 992,703.8 C993,706.9 994.1,711 995.1,715 C996.2,719 997.4,724.5 998.2,727.5 C999.1,730.5 999.7,732.2 1000,733.1" fill="none" stroke="#222" stroke-width="1.6" stroke-linejoin="round" stroke-linecap="round"/>
<path d="M125.2 926.5V924 M151.3 926.5V916.5 M154.2 926.5V925 M157.1 926.5V925 M160 926.5V910.2 M162.9 926.5V923.1 M165.8 926.5V923.1 M168.7 926.5V917.8 M171.6 926.5V918.8 M174.5 926.5V876 M177.4 926.5V896.9 M180.3 926.5V918.8 M183.2 926.5V925 M186.1 926.5V924.8 M191.9 926.5V917.8 M200.6 926.5V925 M206.4 926.5V919 M209.3 926.5V907.2 M212.2 926.5V899 M215.1 926.5V910.6 M218 926.5V914.8 M220.9 926.5V878.1 M223.7 926.5V921 M226.6 926.5V898.1 M229.5 926.5V920 M232.4 926.5V915.6 M235.3 926.5V915.6 M238.2 926.5V923.1 M241.1 926.5V873.1 M244 926.5V910.6 M246.9 926.5V896 M249.8 926.5V916.9 M252.7 926.5V925 M255.6 926.5V918.8 M258.5 926.5V924.4 M270.1 926.5V925.2 M273 926.5V924.8 M275.9 926.5V924 M278.8 926.5V914.8 M281.7 926.5V914.8 M284.6 926.5V925 M287.5 926.5V924 M296.2 926.5V920 M299.1 926.5V914.8 M307.8 926.5V925 M310.7 926.5V914.8 M313.6 926.5V916.9 M316.5 926.5V917.8 M342.5 926.5V923.1 M345.4 926.5V924 M348.3 926.5V922.5 M351.2 926.5V920 M354.1 926.5V917.8 M357 926.5V924.8 M362.8 926.5V924 M365.7 926.5V919 M368.6 926.5V901 M371.5 926.5V913.5 M374.4 926.5V921 M377.3 926.5V918.8 M380.2 926.5V916.9 M383.1 926.5V892.8 M386 926.5V899 M388.9 926.5V921.9 M394.7 926.5V924.8 M397.6 926.5V921.9 M403.4 926.5V925 M406.3 926.5V924 M412.1 926.5V916.9 M415 926.5V917.8 M417.9 926.5V904 M420.8 926.5V887.5 M423.7 926.5V910.2 M426.6 926.5V912.5 M432.4 926.5V924.8 M446.9 926.5V917.8 M449.8 926.5V920 M452.6 926.5V911.9 M455.5 926.5V889.8 M458.4 926.5V915 M461.3 926.5V924 M464.2 926.5V920 M467.1 926.5V913.5 M470 926.5V911.5 M475.8 926.5V923.1 M478.7 926.5V924.8 M481.6 926.5V893.8 M484.5 926.5V921.9 M487.4 926.5V912.5 M490.3 926.5V896 M493.2 926.5V921 M496.1 926.5V921.9 M499 926.5V923.1 M501.9 926.5V923.1 M504.8 926.5V913.5 M510.6 926.5V921.9 M513.5 926.5V911.5 M516.4 926.5V908.5 M519.3 926.5V911 M522.2 926.5V902.2 M525.1 926.5V913.5 M528 926.5V925 M530.9 926.5V914.8 M533.8 926.5V924.8 M551.2 926.5V917.8 M557 926.5V904 M559.9 926.5V916 M562.8 926.5V908.5 M565.7 926.5V908.5 M571.4 926.5V921 M574.3 926.5V917.8 M577.2 926.5V924.8 M580.1 926.5V924 M583 926.5V908.5 M585.9 926.5V925 M620.7 926.5V923.1 M623.6 926.5V920 M626.5 926.5V917.8 M629.4 926.5V916.5 M635.2 926.5V922.2 M638.1 926.5V918.5 M641 926.5V923.5 M643.9 926.5V923.8 M652.6 926.5V921.9 M655.5 926.5V923.8 M658.4 926.5V920 M661.3 926.5V920 M664.2 926.5V917.8 M667.1 926.5V915.6 M670 926.5V914.4 M672.9 926.5V924 M675.8 926.5V921.2 M678.7 926.5V924.8 M681.6 926.5V924 M684.5 926.5V912.5 M687.3 926.5V923.1 M690.2 926.5V913.5 M693.1 926.5V916.9 M696 926.5V917.8 M698.9 926.5V906.2 M701.8 926.5V918.5 M704.7 926.5V920 M707.6 926.5V924.8 M713.4 926.5V911.5 M716.3 926.5V924 M727.9 926.5V924.8 M730.8 926.5V925 M733.7 926.5V909.4 M736.6 926.5V924 M739.5 926.5V923.1 M756.9 926.5V923.1 M759.8 926.5V924 M762.7 926.5V890.6 M765.6 926.5V912.5 M768.5 926.5V900 M771.4 926.5V920 M774.3 926.5V924 M777.2 926.5V911.2 M780.1 926.5V925 M783 926.5V908.1 M794.6 926.5V901 M797.5 926.5V918.8 M800.4 926.5V910 M803.2 926.5V903.1 M806.1 926.5V903.1 M809 926.5V924 M811.9 926.5V923.1 M814.8 926.5V908.1 M817.7 926.5V921 M820.6 926.5V913.5 M823.5 926.5V920 M826.4 926.5V914.4 M829.3 926.5V921 M832.2 926.5V903.5 M835.1 926.5V885.2 M838 926.5V884.4 M840.9 926.5V890.6 M843.8 926.5V919 M846.7 926.5V921.9 M849.6 926.5V924 M858.3 926.5V923.1 M861.2 926.5V921 M864.1 926.5V908.1 M867 926.5V917.8 M869.9 926.5V912.5 M872.8 926.5V890.6 M875.7 926.5V903.1 M878.6 926.5V904 M881.5 926.5V920 M884.4 926.5V921.9 M887.3 926.5V916.5 M890.2 926.5V925 M896 926.5V921 M898.9 926.5V918.8 M901.8 926.5V874 M904.7 926.5V902.2 M907.6 926.5V866.9 M910.5 926.5V916.5 M913.4 926.5V863.5 M916.2 926.5V925 M919.1 926.5V921.9 M924.9 926.5V920 M927.8 926.5V925 M930.7 926.5V921 M933.6 926.5V905 M936.5 926.5V916.9 M939.4 926.5V896.9 M942.3 926.5V906 M945.2 926.5V899 M948.1 926.5V896.9 M951 926.5V918.8 M953.9 926.5V917.8 M956.8 926.5V925.2 M959.7 926.5V924 M962.6 926.5V925 M965.5 926.5V922.5 M968.4 926.5V910.6 M971.3 926.5V923.1 M974.2 926.5V873.1 M977.1 926.5V906.2 M980 926.5V898.1 M982.9 926.5V913.5 M985.8 926.5V905 M988.7 926.5V898.1 M991.6 926.5V888.5 M994.5 926.5V905 M997.4 926.5V924.8" stroke="#ff0000" stroke-width="2.0" fill="none"/>
<path d="M106.5,926.2 C107.5,926.3 110.7,926.5 112.8,926.5 C114.8,926.5 116.3,926.3 119,926.2 C121.7,926.2 126.3,926.2 129,926.2 C131.7,926.3 133.2,926.5 135.2,926.5 C137.3,926.5 139.8,926.8 141.5,926.5 C143.2,926.2 144,925.4 145.2,925 C146.5,924.6 147.9,924.8 149,924.4 C150.1,924 150.9,923.2 152.1,922.5 C153.4,921.8 155.1,920.5 156.5,920.2 C157.9,920 158.8,921.3 160.2,921 C161.7,920.7 163.8,919.9 165.2,918.5 C166.7,917.1 167.9,914.4 169,912.5 C170.1,910.6 171.1,908 172.1,906.9 C173.2,905.8 173.9,905.7 175.2,906 C176.6,906.3 178.9,907 180.2,908.8 C181.6,910.5 182.3,914.1 183.4,916.2 C184.4,918.4 185.4,920.6 186.5,921.9 C187.6,923.2 188.8,923.6 190.2,924 C191.7,924.4 193.6,924.4 195.2,924.4 C196.9,924.4 198.8,924.7 200.2,924 C201.7,923.3 203,921.3 204,920 C205,918.7 205.2,917.6 206.5,916 C207.8,914.4 210,913 211.5,910.6 C213,908.3 214.1,902.9 215.2,901.9 C216.4,900.8 217.3,903.9 218.4,904.4 C219.4,904.9 220.2,904.6 221.5,905 C222.8,905.4 224.6,905.4 225.9,906.9 C227.1,908.3 228,912.5 229,913.8 C230,915 230.9,915.1 232,914.4 C233.1,913.6 234.6,910.6 235.8,909.4 C236.9,908.1 237.8,907.9 238.9,906.9 C239.9,905.9 240.8,904 242,903.5 C243.2,903 245.2,902.9 246.4,903.8 C247.5,904.6 248.1,907.1 248.9,908.8 C249.6,910.4 249.9,912.3 250.8,913.8 C251.6,915.2 252.9,916.1 253.9,917.5 C254.8,918.9 255.4,920.8 256.4,921.9 C257.3,923 258.1,923.3 259.5,924 C260.9,924.7 263,925.7 264.5,926 C266,926.3 267,926.2 268.2,926 C269.5,925.8 270.6,925.5 272,924.8 C273.4,924 275.1,921.9 276.4,921.2 C277.6,920.6 278.4,920.7 279.5,920.6 C280.6,920.5 282.1,920.4 283.2,920.6 C284.4,920.9 285.2,921.7 286.4,922.2 C287.5,922.8 288.9,924.1 290.1,924 C291.4,923.9 292.5,922.1 293.9,921.9 C295.2,921.6 296.9,922.4 298.2,922.5 C299.6,922.6 300.8,922.5 302,922.2 C303.2,922 304.6,921.4 305.8,921.2 C306.9,921.1 307.8,921.7 308.9,921.5 C309.9,921.3 310.9,920.4 312,920.2 C313.1,920.1 314.5,920.1 315.8,920.6 C317,921.1 318,922.2 319.5,923.1 C321,924.1 322.8,925.7 324.5,926.2 C326.2,926.8 327.8,926.5 329.5,926.5 C331.2,926.5 332.8,926.8 334.5,926.5 C336.2,926.2 337.8,925.5 339.5,925 C341.2,924.5 343,924.1 344.5,923.5 C346,922.9 347,921.8 348.2,921.5 C349.5,921.2 350.9,921.7 352,921.9 C353.1,922 353.8,922.5 355.1,922.5 C356.5,922.5 358.6,922.5 360,921.9 C361.4,921.3 362.5,919.9 363.8,919 C365,918.1 366.2,917.2 367.5,916.5 C368.8,915.8 369.9,915.5 371.2,915 C372.6,914.5 374.4,914.1 375.6,913.5 C376.9,912.9 377.8,912.1 378.8,911.5 C379.7,910.9 380.2,909.9 381.2,909.8 C382.3,909.6 383.6,909.9 385,910.6 C386.4,911.4 388.1,912.8 389.4,914.4 C390.6,915.9 391.4,918.2 392.5,920 C393.6,921.8 394.8,924 396.2,925 C397.7,926 399.7,926 401.2,926 C402.8,926 404.2,925.8 405.6,925.2 C407.1,924.7 408.8,924 410,922.5 C411.2,921 412.1,918.3 413.1,916.2 C414.2,914.2 415.1,911.5 416.2,910 C417.4,908.5 418.9,907.5 420,907.2 C421.1,907 422,907.6 423.1,908.8 C424.3,909.9 425.7,912.5 426.9,914.4 C428,916.2 428.9,918.4 430,920 C431.1,921.6 432.4,922.9 433.8,924 C435.1,925.1 436.7,926.4 438.1,926.5 C439.6,926.6 441.1,925.5 442.5,924.8 C443.9,924 445.1,923.3 446.2,921.9 C447.4,920.4 448.2,917.9 449.4,916 C450.5,914.1 452,911.4 453.1,910.6 C454.3,909.9 455.1,911.3 456.2,911.5 C457.4,911.7 458.9,911.3 460,911.9 C461.1,912.4 462,913.6 463.1,914.8 C464.3,915.9 465.6,918.2 466.9,919 C468.1,919.8 469.6,919.2 470.6,919.4 C471.7,919.6 472.2,920.7 473.1,920.2 C474.1,919.8 475.1,916.8 476.2,916.5 C477.4,916.2 478.8,919.6 480,918.5 C481.2,917.4 482.4,911.2 483.8,910 C485.1,908.8 486.9,910.7 488,911.5 C489.1,912.3 489.6,914.2 490.5,915 C491.4,915.8 492.6,915.6 493.6,916.2 C494.7,916.9 495.7,918.1 496.8,919 C497.8,919.9 498.7,921 499.9,921.5 C501,922 502.5,922.1 503.6,921.9 C504.8,921.7 505.6,921.1 506.8,920.2 C507.9,919.4 509.4,917.8 510.5,916.9 C511.6,916 512.6,915.9 513.6,915 C514.7,914.1 515.8,912.1 516.8,911.2 C517.7,910.4 518.3,909.9 519.2,910 C520.2,910.1 521.2,911.1 522.4,911.9 C523.5,912.6 525,913.2 526.1,914.4 C527.3,915.6 528.3,917.5 529.2,919 C530.2,920.5 530.8,922.3 531.8,923.1 C532.7,923.9 533.8,923.5 534.9,923.8 C535.9,924 536.9,924.3 538,924.8 C539.1,925.2 540.5,926.5 541.8,926.5 C543,926.5 544.2,925.4 545.5,925 C546.8,924.6 548.2,924.8 549.2,924 C550.3,923.2 550.6,921.4 551.8,920 C552.9,918.6 554.7,916.8 556.1,915.6 C557.6,914.4 559.2,913.1 560.5,912.8 C561.8,912.4 562.4,912.9 563.6,913.5 C564.9,914.1 566.6,915.2 568,916.2 C569.4,917.3 570.6,919 571.8,920 C572.9,921 573.8,922.2 574.9,922.2 C575.9,922.2 576.9,920.2 578,920 C579.1,919.8 580.5,920.7 581.8,921 C583,921.3 584.2,921.5 585.5,921.9 C586.8,922.2 588.2,922.6 589.2,923.1 C590.3,923.7 590.7,924.7 591.8,925.2 C592.8,925.8 593.2,926.3 595.5,926.5 C597.8,926.7 602.8,926.5 605.5,926.5 C608.2,926.5 610,926.6 611.8,926.5 C613.5,926.4 614.7,926.6 616,926 C617.3,925.4 618.5,924 619.8,923.1 C621,922.3 622.2,921.5 623.5,921 C624.8,920.5 626,920.4 627.2,920.2 C628.5,920.1 629.5,920 631,920.2 C632.5,920.5 634.3,921.4 636,921.9 C637.7,922.4 639.3,922.8 641,923.1 C642.7,923.5 644.3,923.9 646,924 C647.7,924.1 649.3,924.2 651,924 C652.7,923.8 654.4,923.2 656,922.5 C657.6,921.8 659,920.7 660.4,920 C661.7,919.3 662.8,918.4 664.1,918.1 C665.5,917.8 667.1,917.9 668.5,918.1 C669.9,918.3 671,918.9 672.2,919.4 C673.5,919.9 674.8,920.9 676,921.2 C677.2,921.6 678.5,921.5 679.8,921.5 C681,921.5 682.2,921.5 683.5,921 C684.8,920.5 686,919.4 687.2,918.8 C688.5,918.1 689.5,917.5 691,916.9 C692.5,916.2 694.5,914.9 696,914.8 C697.5,914.6 698.5,915.6 699.8,916.2 C701,916.9 702,917.8 703.5,918.5 C705,919.2 706.8,919.9 708.5,920.6 C710.2,921.3 712.1,922.4 713.5,922.8 C714.9,923.1 715.6,922.7 716.6,922.8 C717.7,922.8 718.7,922.7 719.8,923.1 C720.8,923.5 721.8,924.8 722.9,925.2 C723.9,925.7 725.1,926.1 726,925.6 C726.9,925.2 727.4,923.2 728.5,922.5 C729.6,921.8 731.6,921.7 732.9,921.5 C734.1,921.3 734.9,921.3 736,921.2 C737.1,921.2 738.4,920.6 739.8,921.2 C741.1,921.9 742.5,924.2 744,925 C745.5,925.8 747.3,926 749,926 C750.7,926 752.8,926.5 754,925.2 C755.2,924 755.6,920.5 756.5,918.8 C757.4,917 758.5,916.5 759.6,915 C760.8,913.5 761.9,910.9 763.4,910 C764.8,909.1 767,909.2 768.4,909.8 C769.7,910.3 770.4,912.3 771.5,913.5 C772.6,914.7 774,916 775.2,916.9 C776.5,917.8 777.8,918.4 779,919 C780.2,919.6 781.6,920 782.8,920.6 C783.9,921.2 784.8,923 785.9,922.5 C786.9,922 788.1,917.9 789,917.5 C789.9,917.1 790.5,920.2 791.5,920 C792.5,919.8 793.8,918.3 795.2,916.2 C796.7,914.2 798.9,908.5 800.2,907.8 C801.6,907 802.3,911 803.4,911.9 C804.4,912.8 805.5,912.9 806.5,913.1 C807.5,913.4 808.4,912.8 809.6,913.5 C810.9,914.2 812.6,916.8 814,917.5 C815.4,918.2 816.7,917.7 817.8,917.5 C818.8,917.3 819.4,916.2 820.2,916.2 C821.1,916.2 821.7,917.9 822.8,917.5 C823.8,917.1 825.2,915.6 826.5,914 C827.8,912.4 829.1,910.2 830.2,908.1 C831.4,906 832.3,903.1 833.4,901.2 C834.4,899.4 835.4,897.3 836.5,896.9 C837.6,896.5 839,897.2 840.2,898.8 C841.5,900.3 842.9,903.5 844,906.2 C845.1,909 846.1,912.3 847.1,915 C848.2,917.7 849.1,921 850.2,922.5 C851.4,924 852.8,924.1 854,924 C855.2,923.9 856.5,922.6 857.8,921.9 C859,921.1 860.4,920.5 861.5,919.4 C862.6,918.2 863.6,916.8 864.6,915 C865.7,913.2 866.5,910.2 867.8,908.8 C869,907.3 870.7,906.8 872,906.5 C873.3,906.2 874.6,906.3 875.8,906.9 C876.9,907.5 877.8,908.8 878.9,910 C879.9,911.2 881,913 882,914.4 C883,915.7 884.1,916.9 885.1,918.1 C886.2,919.4 887.1,921.2 888.2,921.9 C889.4,922.5 890.8,923.2 892,921.9 C893.2,920.5 894.6,916 895.8,913.8 C896.9,911.5 897.8,910.9 898.9,908.1 C899.9,905.3 901,899 902,896.9 C903,894.8 904.2,897.4 905.1,895.6 C906.1,893.9 906.8,886.6 907.6,886.2 C908.5,885.9 909.2,891.6 910.1,893.8 C911.1,895.9 912.2,896.3 913.2,899 C914.3,901.7 915.3,907.9 916.4,910 C917.4,912.1 918.5,909.2 919.5,911.5 C920.5,913.8 921.5,922 922.6,923.8 C923.8,925.5 925.2,922.7 926.4,921.9 C927.5,921.1 928.4,920.2 929.5,919 C930.6,917.8 932,916.1 933.2,914.4 C934.5,912.7 935.9,910.3 937,908.8 C938.1,907.2 939,905.9 940.1,905 C941.3,904.1 942.6,903.3 943.9,903.5 C945.1,903.7 946.4,905 947.6,906.2 C948.9,907.5 950.2,909.6 951.4,911.2 C952.5,912.9 953.5,914.5 954.5,916.2 C955.5,918 956.5,920.8 957.6,921.9 C958.8,922.9 960.1,922.6 961.4,922.5 C962.6,922.4 964.1,922.8 965.1,921 C966.2,919.2 966.6,914.1 967.6,911.9 C968.7,909.6 970.2,909 971.4,907.5 C972.5,906 973.5,904 974.5,903.1 C975.5,902.3 976.7,903.1 977.6,902.5 C978.6,901.9 979.2,899.2 980.1,899.4 C981.1,899.6 982.2,903.4 983.2,903.8 C984.3,904.1 985.2,901.5 986.4,901.2 C987.5,901 988.9,901.8 990.1,902.5 C991.4,903.2 992.7,904 993.9,905.6 C995,907.3 996,909.9 997,912.5 C998,915.1 999.5,919.8 1000,921.2" fill="none" stroke="#222" stroke-width="1.6" stroke-linejoin="round" stroke-linecap="round"/>
<path d="M105 1113.1V1075 M107.8 1113.1V1049.4 M110.7 1113.1V1105.6 M113.6 1113.1V1111 M116.5 1113.1V1111.9 M119.4 1113.1V1102.2 M122.3 1113.1V1073.1 M125.2 1113.1V1110 M133.9 1113.1V1077.2 M136.8 1113.1V1096.9 M139.7 1113.1V1058.5 M142.6 1113.1V1089 M145.5 1113.1V1105.6 M148.4 1113.1V1105.6 M151.3 1113.1V1108.1 M154.2 1113.1V1101.2 M157.1 1113.1V1111.9 M160 1113.1V1111 M162.9 1113.1V1111 M165.8 1113.1V1112.2 M168.7 1113.1V1077.2 M171.6 1113.1V1096 M174.5 1113.1V1059.4 M177.4 1113.1V1090.6 M180.3 1113.1V1108.5 M186.1 1113.1V1101.2 M189 1113.1V1109 M191.9 1113.1V1107.5 M194.8 1113.1V1111.9 M203.5 1113.1V1089.4 M206.4 1113.1V1057.5 M209.3 1113.1V1069 M212.2 1113.1V1106.5 M215.1 1113.1V1089.8 M218 1113.1V1102.8 M220.9 1113.1V1110.6 M229.5 1113.1V1103.1 M235.3 1113.1V1106.2 M238.2 1113.1V1097.5 M241.1 1113.1V1082.5 M244 1113.1V1079.4 M246.9 1113.1V1077.2 M249.8 1113.1V1093.5 M252.7 1113.1V1105 M255.6 1113.1V1110 M258.5 1113.1V1083.5 M261.4 1113.1V1096 M264.3 1113.1V1103.1 M270.1 1113.1V1107.5 M273 1113.1V1111 M275.9 1113.1V1111.9 M278.8 1113.1V1088.8 M281.7 1113.1V1103.5 M284.6 1113.1V1106.9 M310.7 1113.1V1101.2 M313.6 1113.1V1090.6 M316.5 1113.1V1080.2 M322.3 1113.1V1108.1 M348.3 1113.1V1110 M351.2 1113.1V1111 M354.1 1113.1V1096 M357 1113.1V1110 M365.7 1113.1V1110.6 M371.5 1113.1V1111.9 M374.4 1113.1V1111.9 M377.3 1113.1V1103.1 M380.2 1113.1V1093.1 M383.1 1113.1V1107.8 M386 1113.1V1093.8 M388.9 1113.1V1110.6 M458.4 1113.1V1102.5 M461.3 1113.1V1085.6 M467.1 1113.1V1111.9 M475.8 1113.1V1110.6 M478.7 1113.1V1111.9 M481.6 1113.1V1086 M484.5 1113.1V1082.2 M487.4 1113.1V1037.5 M490.3 1113.1V1080 M493.2 1113.1V1097.2 M499 1113.1V1110.2 M510.6 1113.1V1111.9 M513.5 1113.1V1108.5 M516.4 1113.1V1082.5 M519.3 1113.1V1101.2 M522.2 1113.1V1071.9 M525.1 1113.1V1069 M528 1113.1V1074.4 M530.9 1113.1V1111 M554.1 1113.1V1108.5 M557 1113.1V1096 M559.9 1113.1V1093.1 M562.8 1113.1V1103.8 M565.7 1113.1V1110 M574.3 1113.1V1105.6 M580.1 1113.1V1105 M583 1113.1V1100.6 M585.9 1113.1V1101.2 M588.8 1113.1V1066.9 M591.7 1113.1V1111.9 M600.4 1113.1V1108.5 M617.8 1113.1V1100 M620.7 1113.1V1108.5 M623.6 1113.1V1109 M626.5 1113.1V1103.5 M629.4 1113.1V1111 M635.2 1113.1V1085.6 M638.1 1113.1V1096 M641 1113.1V1111.2 M643.9 1113.1V1109.4 M652.6 1113.1V1103.5 M655.5 1113.1V1091.9 M661.3 1113.1V1052.2 M664.2 1113.1V1103.5 M667.1 1113.1V1106.9 M670 1113.1V1110 M690.2 1113.1V1110 M693.1 1113.1V1109.8 M696 1113.1V1080.6 M698.9 1113.1V1078.5 M701.8 1113.1V1110 M704.7 1113.1V1111.9 M713.4 1113.1V1111.9 M725 1113.1V1107.5 M727.9 1113.1V1091 M730.8 1113.1V1080.6 M733.7 1113.1V1083.5 M736.6 1113.1V1096.9 M739.5 1113.1V1103.1 M742.4 1113.1V1111 M754 1113.1V1097.2 M759.8 1113.1V1103.1 M762.7 1113.1V1086.5 M765.6 1113.1V1099.4 M768.5 1113.1V1075 M771.4 1113.1V1101.5 M774.3 1113.1V1108.5 M777.2 1113.1V1090.6 M780.1 1113.1V1110.6 M794.6 1113.1V1105 M797.5 1113.1V1078.1 M800.4 1113.1V1081.2 M803.2 1113.1V1106.2 M806.1 1113.1V1099.8 M809 1113.1V1087.8 M814.8 1113.1V1111.9 M820.6 1113.1V1111.9 M826.4 1113.1V1094 M829.3 1113.1V1096.9 M832.2 1113.1V1071.9 M835.1 1113.1V1054.4 M838 1113.1V1070 M840.9 1113.1V1070 M843.8 1113.1V1096 M846.7 1113.1V1107.5 M849.6 1113.1V1111.9 M861.2 1113.1V1111.2 M867 1113.1V1098.1 M869.9 1113.1V1086.5 M872.8 1113.1V1095 M875.7 1113.1V1098.1 M878.6 1113.1V1070 M881.5 1113.1V1109.8 M884.4 1113.1V1110 M890.2 1113.1V1111 M896 1113.1V1099.4 M898.9 1113.1V1107.8 M901.8 1113.1V1036.5 M904.7 1113.1V1084.8 M907.6 1113.1V1071.2 M910.5 1113.1V1078.1 M913.4 1113.1V1106.5 M916.2 1113.1V1110.6 M927.8 1113.1V1111 M930.7 1113.1V1106.5 M933.6 1113.1V1106.5 M936.5 1113.1V1086 M939.4 1113.1V1064.8 M942.3 1113.1V1069 M945.2 1113.1V1090 M948.1 1113.1V1111 M951 1113.1V1101.2 M956.8 1113.1V1111.5 M962.6 1113.1V1111.2 M968.4 1113.1V1111.9 M971.3 1113.1V1091.9 M974.2 1113.1V1101.2 M977.1 1113.1V1079.4 M980 1113.1V1094 M982.9 1113.1V1072.2 M985.8 1113.1V1103.1 M988.7 1113.1V1099.4 M991.6 1113.1V1103.1 M994.5 1113.1V1111.9" stroke="#ff0000" stroke-width="2.0" fill="none"/>
<path d="M110.9,1091 C111.4,1092 113.1,1095.3 114,1096.9 C114.9,1098.5 115.6,1099.9 116.5,1100.6 C117.4,1101.4 118.6,1101.2 119.6,1101.5 C120.7,1101.8 121.8,1102.1 122.8,1102.2 C123.7,1102.4 124.3,1103.3 125.2,1102.5 C126.2,1101.7 127.3,1097.4 128.4,1097.2 C129.4,1097.1 130.6,1102.6 131.5,1101.9 C132.4,1101.2 133.2,1095.3 134,1093.1 C134.8,1090.9 135.6,1089.9 136.5,1088.8 C137.4,1087.6 138.6,1085.9 139.6,1086.2 C140.7,1086.6 141.7,1089.4 142.8,1090.6 C143.8,1091.9 144.9,1092.1 145.9,1093.8 C146.8,1095.4 147.4,1098.2 148.4,1100.2 C149.3,1102.3 150.4,1104.9 151.5,1106.2 C152.6,1107.6 153.9,1107.5 155.2,1108.1 C156.6,1108.8 158.4,1110.5 159.6,1110 C160.9,1109.5 161.6,1106.5 162.8,1105 C163.9,1103.5 165.5,1103.3 166.5,1101 C167.5,1098.7 168.1,1093.5 169,1091.2 C169.9,1089 171.2,1088.3 172.1,1087.5 C173.1,1086.7 173.7,1085.4 174.6,1086.2 C175.6,1087.1 176.8,1091.1 177.8,1092.5 C178.7,1093.9 179.3,1092.5 180.2,1094.4 C181.2,1096.2 182.3,1101.5 183.4,1103.8 C184.4,1106 185.4,1107 186.5,1107.8 C187.6,1108.5 189.1,1107.9 190.2,1108.1 C191.4,1108.3 192.5,1108.6 193.4,1109 C194.2,1109.4 194.5,1111.1 195.2,1110.6 C196,1110.2 196.8,1108.6 197.8,1106.2 C198.7,1103.9 199.9,1099.1 200.9,1096.2 C201.8,1093.4 202.4,1090.8 203.4,1089.4 C204.3,1087.9 205.5,1088.5 206.5,1087.5 C207.5,1086.5 208.6,1083.4 209.6,1083.1 C210.7,1082.8 211.8,1084 212.8,1085.6 C213.7,1087.3 214.4,1090.4 215.2,1093.1 C216.1,1095.8 216.7,1099.7 217.8,1101.9 C218.8,1104.1 220.5,1105.1 221.5,1106.2 C222.5,1107.4 223.1,1108.3 224,1109 C224.9,1109.7 226.1,1110.8 227.1,1110.6 C228.2,1110.5 229.4,1108.6 230.2,1108.1 C231.1,1107.6 231.2,1108.4 232,1107.5 C232.8,1106.6 234.1,1104.3 235.1,1102.5 C236.2,1100.7 237.2,1099 238.2,1096.9 C239.3,1094.8 240.4,1091.7 241.4,1090 C242.3,1088.3 242.9,1087.2 243.9,1086.9 C244.8,1086.5 246,1086.7 247,1087.8 C248,1088.8 249.1,1092 250.1,1093.1 C251.2,1094.2 252.2,1093.4 253.2,1094.4 C254.3,1095.3 255.3,1097.4 256.4,1098.8 C257.4,1100.1 258.2,1101.8 259.5,1102.5 C260.8,1103.2 262.6,1102.2 263.9,1103.1 C265.1,1104.1 266,1106.8 267,1108.1 C268,1109.4 269.1,1111.2 270.1,1111 C271.2,1110.8 272.1,1107.9 273.2,1106.9 C274.4,1105.8 275.8,1105.1 277,1104.8 C278.2,1104.4 279.5,1104.6 280.8,1104.8 C282,1104.9 283.4,1104.8 284.5,1105.6 C285.6,1106.5 286.4,1108.9 287.6,1110 C288.9,1111.1 290.4,1112 292,1112.5 C293.6,1113 295.3,1113.1 297,1113.1 C298.7,1113.1 300.5,1113.3 302,1112.5 C303.5,1111.7 304.5,1109.9 305.8,1108.1 C307,1106.4 308.2,1103.1 309.5,1101.9 C310.8,1100.6 312.1,1101 313.2,1100.6 C314.4,1100.3 315.3,1099.6 316.4,1099.8 C317.4,1099.9 318.5,1100.5 319.5,1101.5 C320.5,1102.5 321.7,1104 322.6,1105.6 C323.6,1107.2 324.2,1110.2 325.1,1111.2 C326.1,1112.3 327.1,1111.6 328.2,1111.9 C329.4,1112.2 330.1,1112.9 332,1113.1 C333.9,1113.3 337.4,1113.2 339.5,1113.1 C341.6,1113 343,1113.3 344.5,1112.5 C346,1111.7 347,1108.9 348.2,1108.1 C349.5,1107.4 350.8,1108 352,1108.1 C353.2,1108.3 354.4,1108.9 355.8,1109 C357.1,1109.1 358.9,1108.4 360,1109 C361.1,1109.6 361.2,1111.9 362.5,1112.5 C363.8,1113.1 366,1112.9 367.5,1112.5 C369,1112.1 370,1111 371.2,1110 C372.5,1109 373.8,1107.2 375,1106.2 C376.2,1105.3 377.6,1105.1 378.8,1104.4 C379.9,1103.6 380.7,1102 381.9,1101.9 C383,1101.8 384.4,1102.9 385.6,1103.8 C386.9,1104.6 388.2,1106.4 389.4,1107.2 C390.5,1108.1 391.5,1107.9 392.5,1108.8 C393.5,1109.6 393.8,1111.8 395.6,1112.5 C397.5,1113.2 394.7,1113 403.8,1113.1 C412.8,1113.2 441.8,1113.6 450,1113.1 C458.2,1112.6 452.1,1111.2 453.1,1110 C454.2,1108.8 455.1,1106.5 456.2,1105.6 C457.4,1104.8 458.8,1105.1 460,1105 C461.2,1104.9 462.5,1104.7 463.8,1105.2 C465,1105.8 466.5,1106.9 467.5,1108.1 C468.5,1109.3 469.1,1111.9 470,1112.5 C470.9,1113.1 472,1113.1 473.1,1111.9 C474.3,1110.6 475.7,1107.5 476.9,1105 C478,1102.5 479.1,1100.1 480,1096.9 C480.9,1093.6 481.7,1088.4 482.5,1085.6 C483.3,1082.8 484.1,1081.4 485,1080 C485.9,1078.6 487.1,1077.2 488,1077.5 C488.9,1077.8 489.6,1080 490.5,1081.9 C491.4,1083.8 492.7,1085.4 493.6,1088.8 C494.6,1092.1 495.2,1098.4 496.1,1101.9 C497.1,1105.3 498.2,1107.6 499.2,1109.4 C500.3,1111.1 501,1111.8 502.4,1112.2 C503.7,1112.7 506,1113.1 507.4,1112.2 C508.7,1111.4 509.4,1108.4 510.5,1106.9 C511.6,1105.4 513.2,1104.9 514.2,1103.1 C515.3,1101.4 515.8,1098.9 516.8,1096.2 C517.7,1093.6 518.9,1090.2 519.9,1087.5 C520.8,1084.8 521.4,1080 522.4,1079.8 C523.3,1079.5 524.5,1084.5 525.5,1086.2 C526.5,1088 527.7,1088.3 528.6,1090 C529.6,1091.7 530.3,1094 531.1,1096.2 C532,1098.5 532.7,1101 533.6,1103.8 C534.6,1106.5 535.4,1110.9 536.8,1112.5 C538.1,1114.1 540.1,1113 541.8,1113.1 C543.4,1113.2 545.3,1113.7 546.8,1113.1 C548.2,1112.5 549.2,1110.6 550.5,1109.4 C551.8,1108.1 552.9,1106.7 554.2,1105.6 C555.6,1104.6 557.2,1103.3 558.6,1103.1 C560.1,1102.9 561.6,1103.7 563,1104.4 C564.4,1105.1 565.5,1106.3 566.8,1107.2 C568,1108.2 569.2,1109.6 570.5,1110 C571.8,1110.4 573,1110.4 574.2,1109.8 C575.5,1109.1 577,1107.1 578,1106.2 C579,1105.4 579.6,1105.9 580.5,1104.4 C581.4,1102.9 582.6,1098.5 583.6,1097.2 C584.7,1096 585.6,1096.5 586.8,1096.9 C587.9,1097.3 589.1,1098.7 590.5,1099.8 C591.9,1100.8 593.6,1101.1 594.9,1103.1 C596.1,1105.1 596.2,1110.4 598,1111.9 C599.8,1113.4 603.7,1112 605.5,1112.2 C607.3,1112.5 607.6,1113.3 608.6,1113.1 C609.7,1112.9 610.5,1111.6 611.8,1111 C613,1110.4 614.7,1110 616,1109.4 C617.3,1108.8 618.5,1107.9 619.8,1107.5 C621,1107.1 622.4,1107 623.5,1106.9 C624.6,1106.7 625.6,1107.2 626.6,1106.5 C627.7,1105.8 628.7,1103.5 629.8,1102.5 C630.8,1101.5 631.5,1100.6 632.9,1100.2 C634.2,1099.9 636.5,1100 637.9,1100.6 C639.2,1101.2 640.1,1102.6 641,1103.8 C641.9,1104.9 642.6,1106.8 643.5,1107.8 C644.4,1108.8 645.6,1109.9 646.6,1109.8 C647.7,1109.6 648.8,1107.4 649.8,1106.9 C650.7,1106.3 651.3,1108.6 652.2,1106.5 C653.2,1104.4 654.3,1096.6 655.4,1094.4 C656.4,1092.1 657.5,1093.2 658.5,1093.1 C659.5,1093.1 660.6,1093.4 661.6,1094 C662.7,1094.6 663.8,1096 664.8,1096.5 C665.7,1097 666.4,1095.2 667.2,1097.2 C668.1,1099.2 668.7,1106.1 669.8,1108.5 C670.8,1110.9 672,1110.7 673.5,1111.5 C675,1112.3 676.2,1113 678.5,1113.1 C680.8,1113.2 685.3,1113.2 687.2,1111.9 C689.2,1110.5 689.3,1107.2 690.4,1105 C691.4,1102.8 692.4,1099.8 693.5,1098.8 C694.6,1097.7 695.8,1098.3 697.2,1098.5 C698.7,1098.7 701,1098.7 702.2,1099.8 C703.5,1100.8 703.8,1103 704.8,1105 C705.7,1107 706.6,1110.5 707.9,1111.9 C709.1,1113.2 710.5,1113 712.2,1113.1 C714,1113.2 716.8,1113.6 718.5,1112.5 C720.2,1111.4 721,1108.5 722.2,1106.2 C723.5,1104 724.8,1100.9 726,1098.8 C727.2,1096.6 728.5,1094.4 729.8,1093.1 C731,1091.8 732.4,1090.9 733.5,1091 C734.6,1091.1 735.6,1092 736.6,1093.5 C737.7,1095 738.5,1097.6 739.8,1100 C741,1102.4 742.9,1106.4 744,1108.1 C745.1,1109.8 745.6,1110 746.5,1110.2 C747.4,1110.5 748.6,1109.6 749.6,1109.4 C750.7,1109.2 751.6,1110.1 752.8,1109 C753.9,1107.9 755.4,1104.1 756.5,1102.5 C757.6,1100.9 758.6,1100.5 759.6,1099.4 C760.7,1098.3 761.7,1097 762.8,1096 C763.8,1095 764.7,1093.8 765.9,1093.5 C767,1093.2 768.4,1093.8 769.6,1094.4 C770.9,1094.9 772.3,1095.9 773.4,1096.9 C774.4,1097.8 775.1,1098.6 775.9,1100 C776.6,1101.4 776.8,1103.6 777.8,1105 C778.7,1106.4 780.5,1107.5 781.5,1108.1 C782.5,1108.8 783.1,1108 784,1108.8 C784.9,1109.5 786.3,1112 787.1,1112.5 C788,1113 788.2,1113.3 789,1111.9 C789.8,1110.4 791.2,1105.9 792.1,1103.8 C793.1,1101.6 793.6,1100 794.6,1098.8 C795.7,1097.5 797.4,1097.1 798.4,1096.5 C799.3,1095.9 799.4,1096.1 800.2,1095 C801.1,1093.9 802.3,1089.6 803.4,1090 C804.4,1090.4 805.6,1095.4 806.5,1097.5 C807.4,1099.6 808.1,1101.4 809,1102.5 C809.9,1103.6 811.1,1103.2 812.1,1104 C813.2,1104.8 814.2,1106.2 815.2,1107.5 C816.3,1108.8 817.1,1111.9 818.4,1111.9 C819.6,1111.9 821.6,1109 822.8,1107.5 C823.9,1106 824.2,1105.8 825.2,1103.1 C826.3,1100.4 827.9,1094.9 829,1091.2 C830.1,1087.6 831.1,1084.2 832.1,1081.2 C833.2,1078.3 834.2,1075 835.2,1073.8 C836.3,1072.5 837.4,1072.9 838.4,1073.8 C839.3,1074.6 839.9,1076 840.9,1078.8 C841.8,1081.5 843,1086.7 844,1090 C845,1093.3 846.1,1095.8 847.1,1098.8 C848.2,1101.7 849.2,1105.3 850.2,1107.5 C851.3,1109.7 851.9,1111 853.4,1111.9 C854.8,1112.7 857.5,1112.8 859,1112.5 C860.5,1112.2 861.1,1111.5 862.1,1110 C863.2,1108.5 864.2,1105.5 865.2,1103.8 C866.3,1102 867.2,1102 868.4,1099.8 C869.5,1097.5 870.9,1091.1 872,1090 C873.1,1088.9 874.1,1092 875.1,1093.1 C876.2,1094.3 877.2,1095.7 878.2,1096.9 C879.3,1098 880.3,1099.1 881.4,1100 C882.4,1100.9 883.6,1100.8 884.5,1102.5 C885.4,1104.2 886.3,1108.6 887,1110 C887.7,1111.4 887.8,1110.9 888.9,1110.6 C889.9,1110.3 892,1111 893.2,1108.1 C894.5,1105.2 895.3,1096.5 896.4,1093.1 C897.4,1089.8 898.6,1090.3 899.5,1088.1 C900.4,1085.9 901.1,1082.1 902,1080 C902.9,1077.9 904.2,1076.3 905.1,1075.6 C906.1,1075 906.7,1073.6 907.6,1076 C908.6,1078.4 909.7,1086.5 910.8,1090 C911.8,1093.5 912.8,1094.4 913.9,1096.9 C914.9,1099.4 916,1102.5 917,1105 C918,1107.5 918.9,1110.8 920.1,1111.9 C921.4,1112.9 923.1,1111.7 924.5,1111.2 C925.9,1110.8 927.1,1110.6 928.2,1109.4 C929.4,1108.1 930.3,1106.1 931.4,1103.8 C932.4,1101.4 933.6,1097.9 934.5,1095 C935.4,1092.1 936.1,1088.2 937,1086.2 C937.9,1084.3 939.1,1083.4 940.1,1083.1 C941.2,1082.8 942.2,1083.4 943.2,1084.4 C944.3,1085.3 945.3,1086.4 946.4,1088.8 C947.4,1091.1 948.5,1095.6 949.5,1098.8 C950.5,1101.9 951.6,1105.6 952.6,1107.5 C953.7,1109.4 954.6,1109.2 955.8,1110 C956.9,1110.8 958.4,1112 959.5,1112.2 C960.6,1112.5 961.4,1112.1 962.6,1111.2 C963.9,1110.4 965.6,1108.6 967,1106.9 C968.4,1105.1 969.5,1102.6 970.8,1100.6 C972,1098.6 973.4,1096.9 974.5,1095 C975.6,1093.1 976.4,1089.8 977.6,1089 C978.9,1088.2 980.6,1089.2 982,1090 C983.4,1090.8 984.6,1092.5 985.8,1093.8 C986.9,1095 987.8,1095.6 988.9,1097.5 C989.9,1099.4 991,1103.2 992,1105 C993,1106.8 994.1,1107.2 995.1,1108.1 C996.2,1109.1 997.4,1109.9 998.2,1110.6 C999.1,1111.4 999.7,1112.2 1000,1112.5" fill="none" stroke="#222" stroke-width="1.6" stroke-linejoin="round" stroke-linecap="round"/>
<path d="M105 1299.9V1267.4 M107.8 1299.9V1229.9 M110.7 1299.9V1254 M113.6 1299.9V1271.8 M116.5 1299.9V1283 M119.4 1299.9V1298.6 M122.3 1299.9V1298.6 M125.2 1299.9V1299 M128.1 1299.9V1298.6 M131 1299.9V1287.4 M133.9 1299.9V1243.6 M136.8 1299.9V1254.9 M139.7 1299.9V1247.4 M142.6 1299.9V1267.4 M145.5 1299.9V1225.5 M148.4 1299.9V1269.2 M151.3 1299.9V1292.4 M154.2 1299.9V1275.5 M157.1 1299.9V1296.8 M165.8 1299.9V1295.5 M168.7 1299.9V1242.4 M171.6 1299.9V1291.1 M174.5 1299.9V1263 M177.4 1299.9V1279 M180.3 1299.9V1267.4 M183.2 1299.9V1293 M186.1 1299.9V1294.2 M189 1299.9V1298.6 M203.5 1299.9V1286.1 M206.4 1299.9V1140.8 M209.3 1299.9V1214.2 M212.2 1299.9V1189.2 M215.1 1299.9V1250.5 M218 1299.9V1275.5 M220.9 1299.9V1279.2 M223.7 1299.9V1296.8 M226.6 1299.9V1297.8 M229.5 1299.9V1274.9 M232.4 1299.9V1297.4 M235.3 1299.9V1281.8 M238.2 1299.9V1249.9 M241.1 1299.9V1240.2 M244 1299.9V1242.8 M246.9 1299.9V1254 M249.8 1299.9V1285.2 M252.7 1299.9V1284.2 M255.6 1299.9V1298.6 M258.5 1299.9V1288 M261.4 1299.9V1290.2 M264.3 1299.9V1294 M267.2 1299.9V1298.6 M270.1 1299.9V1291.1 M273 1299.9V1292.4 M275.9 1299.9V1286.8 M278.8 1299.9V1266.5 M281.7 1299.9V1279 M284.6 1299.9V1286.8 M287.5 1299.9V1297.4 M296.2 1299.9V1295.5 M307.8 1299.9V1294.2 M310.7 1299.9V1279 M313.6 1299.9V1258 M316.5 1299.9V1239.2 M319.4 1299.9V1279 M322.3 1299.9V1298.6 M325.2 1299.9V1299 M345.4 1299.9V1298.6 M348.3 1299.9V1298.6 M351.2 1299.9V1294.2 M354.1 1299.9V1274.9 M357 1299.9V1295.8 M371.5 1299.9V1296.8 M374.4 1299.9V1296.8 M377.3 1299.9V1281.8 M380.2 1299.9V1271.5 M383.1 1299.9V1288.6 M386 1299.9V1290.5 M388.9 1299.9V1296.5 M391.8 1299.9V1298 M394.7 1299.9V1290.2 M397.6 1299.9V1297.4 M412.1 1299.9V1298.6 M458.4 1299.9V1280.8 M461.3 1299.9V1288 M464.2 1299.9V1298.6 M467.1 1299.9V1286.1 M470 1299.9V1298.6 M478.7 1299.9V1298.6 M481.6 1299.9V1256.8 M484.5 1299.9V1231.1 M487.4 1299.9V1205.5 M490.3 1299.9V1161.8 M493.2 1299.9V1283 M496.1 1299.9V1286.1 M499 1299.9V1286.1 M501.9 1299.9V1297.8 M504.8 1299.9V1295.8 M507.7 1299.9V1298.6 M510.6 1299.9V1293 M513.5 1299.9V1289.2 M516.4 1299.9V1279 M519.3 1299.9V1183 M522.2 1299.9V1239.2 M525.1 1299.9V1193 M528 1299.9V1288.6 M530.9 1299.9V1287 M536.7 1299.9V1297.4 M551.2 1299.9V1296.8 M554.1 1299.9V1274.9 M557 1299.9V1295.8 M559.9 1299.9V1296.8 M562.8 1299.9V1288 M565.7 1299.9V1274.9 M568.6 1299.9V1286.1 M571.4 1299.9V1262 M574.3 1299.9V1268 M577.2 1299.9V1296.8 M580.1 1299.9V1297.4 M583 1299.9V1281.1 M585.9 1299.9V1246.8 M588.8 1299.9V1198.6 M617.8 1299.9V1280.8 M620.7 1299.9V1254.9 M623.6 1299.9V1287 M626.5 1299.9V1292.4 M629.4 1299.9V1279.9 M635.2 1299.9V1285.2 M638.1 1299.9V1285.2 M641 1299.9V1292.4 M652.6 1299.9V1273.6 M655.5 1299.9V1270.5 M658.4 1299.9V1281.8 M661.3 1299.9V1285.2 M664.2 1299.9V1287 M667.1 1299.9V1284 M670 1299.9V1292.4 M672.9 1299.9V1282 M675.8 1299.9V1298.6 M684.5 1299.9V1295.8 M687.3 1299.9V1292.4 M690.2 1299.9V1271.8 M693.1 1299.9V1284.9 M696 1299.9V1276.8 M698.9 1299.9V1287 M701.8 1299.9V1273.6 M704.7 1299.9V1288 M707.6 1299.9V1282 M710.5 1299.9V1298.6 M719.2 1299.9V1298.6 M725 1299.9V1286.1 M727.9 1299.9V1280.8 M730.8 1299.9V1219.5 M733.7 1299.9V1229.9 M736.6 1299.9V1273.6 M739.5 1299.9V1293.6 M742.4 1299.9V1289.9 M748.2 1299.9V1298 M754 1299.9V1299 M756.9 1299.9V1296.5 M759.8 1299.9V1279 M762.7 1299.9V1218.2 M765.6 1299.9V1258 M768.5 1299.9V1235.2 M771.4 1299.9V1241.1 M774.3 1299.9V1292.4 M777.2 1299.9V1293.2 M780.1 1299.9V1295.8 M785.9 1299.9V1273.6 M791.7 1299.9V1281.8 M794.6 1299.9V1279.9 M797.5 1299.9V1259 M800.4 1299.9V1261.1 M803.2 1299.9V1259 M806.1 1299.9V1275.5 M809 1299.9V1265.2 M811.9 1299.9V1287 M817.7 1299.9V1298.6 M820.6 1299.9V1299 M823.5 1299.9V1299 M826.4 1299.9V1254.9 M829.3 1299.9V1248.6 M832.2 1299.9V1237 M835.1 1299.9V1222.8 M838 1299.9V1251.8 M840.9 1299.9V1253 M843.8 1299.9V1268 M846.7 1299.9V1278 M849.6 1299.9V1278 M852.5 1299.9V1299 M858.3 1299.9V1299 M864.1 1299.9V1285.2 M867 1299.9V1222.8 M869.9 1299.9V1229 M872.8 1299.9V1220.5 M875.7 1299.9V1273.6 M878.6 1299.9V1278 M881.5 1299.9V1280.5 M884.4 1299.9V1282 M887.3 1299.9V1298.6 M890.2 1299.9V1296.8 M893.1 1299.9V1292.4 M896 1299.9V1283 M898.9 1299.9V1270.5 M901.8 1299.9V1213 M904.7 1299.9V1247.8 M907.6 1299.9V1205.8 M910.5 1299.9V1263 M913.4 1299.9V1278 M916.2 1299.9V1297.4 M919.1 1299.9V1287.4 M922 1299.9V1297.4 M927.8 1299.9V1298.6 M930.7 1299.9V1290.2 M933.6 1299.9V1229.9 M936.5 1299.9V1229.9 M939.4 1299.9V1195.5 M942.3 1299.9V1206.8 M945.2 1299.9V1279 M948.1 1299.9V1272.8 M951 1299.9V1286.8 M953.9 1299.9V1295.2 M956.8 1299.9V1294.5 M962.6 1299.9V1286.1 M965.5 1299.9V1293.2 M968.4 1299.9V1275.8 M971.3 1299.9V1226.8 M974.2 1299.9V1190.2 M977.1 1299.9V1271.8 M980 1299.9V1267.4 M982.9 1299.9V1275.8 M985.8 1299.9V1249.9 M988.7 1299.9V1268.2 M991.6 1299.9V1276.8 M994.5 1299.9V1288.6" stroke="#ff0000" stroke-width="2.0" fill="none"/>
<path d="M110.9,1261.8 C111.4,1262.8 113.1,1265.2 114,1268 C114.9,1270.8 115.6,1275.3 116.5,1278.6 C117.4,1282 118.6,1285.4 119.6,1288 C120.7,1290.6 121.7,1292.9 122.8,1294.2 C123.8,1295.6 124.8,1297.6 125.9,1296.1 C126.9,1294.7 128,1288.9 129,1285.5 C130,1282.1 131.1,1278.9 132.1,1275.5 C133.2,1272.1 134.3,1267.8 135.2,1264.9 C136.2,1262 136.9,1260.9 137.8,1258 C138.6,1255.1 139.4,1248.2 140.2,1247.4 C141.1,1246.5 141.9,1250.8 142.8,1253 C143.6,1255.2 144.3,1258.4 145.2,1260.5 C146.2,1262.6 147.3,1263.4 148.4,1265.5 C149.4,1267.6 150.6,1269.9 151.5,1273 C152.4,1276.1 153.2,1281.1 154,1284.2 C154.8,1287.4 155.7,1290.2 156.5,1291.8 C157.3,1293.3 158.2,1293.9 159,1293.6 C159.8,1293.3 160.7,1291.1 161.5,1289.9 C162.3,1288.7 163.2,1287.3 164,1286.5 C164.8,1285.7 165.7,1286.1 166.5,1284.9 C167.3,1283.7 168.1,1280.8 169,1279.2 C169.9,1277.7 171.2,1277 172.1,1275.5 C173.1,1274 173.8,1270.1 174.6,1270.5 C175.5,1270.9 176.3,1276.4 177.1,1278 C178,1279.6 178.8,1278.9 179.6,1279.9 C180.5,1280.8 181.2,1282.1 182.1,1283.6 C183.1,1285.2 184.3,1287.5 185.2,1289.2 C186.2,1291 186.9,1292.8 187.8,1294.2 C188.6,1295.7 189.2,1297.2 190.2,1298 C191.3,1298.8 192.8,1299.5 194,1299.2 C195.2,1299 196.7,1302.2 197.8,1296.8 C198.8,1291.3 199.2,1274.5 200.2,1266.8 C201.3,1259 203,1256.5 204,1250.5 C205,1244.5 205.6,1236 206.5,1230.5 C207.4,1225 208.7,1220.1 209.6,1217.4 C210.6,1214.7 211.3,1212.5 212.1,1214.2 C213,1216 213.8,1222.4 214.6,1228 C215.5,1233.6 216.4,1242.2 217.1,1248 C217.9,1253.8 218.3,1257.8 219,1263 C219.7,1268.2 220.6,1275.4 221.5,1279.2 C222.4,1283.1 223.6,1284.4 224.6,1286.1 C225.7,1287.8 226.8,1289.3 227.8,1289.5 C228.7,1289.7 229.5,1288.7 230.2,1287.4 C231,1286.1 231.2,1284.4 232,1281.8 C232.8,1279.1 234.1,1274.9 235.1,1271.8 C236.2,1268.6 237,1265.9 238.2,1263 C239.5,1260.1 241.4,1255 242.6,1254.2 C243.9,1253.5 244.7,1256.1 245.8,1258.6 C246.8,1261.1 247.8,1265.8 248.9,1269.2 C249.9,1272.7 250.9,1276.1 252,1279.2 C253.1,1282.4 254.5,1285.9 255.8,1288 C257,1290.1 258.2,1290.8 259.5,1291.8 C260.8,1292.7 262.1,1293.4 263.2,1293.6 C264.4,1293.9 265.3,1293.4 266.4,1293.2 C267.4,1293.1 268.5,1293.7 269.5,1293 C270.5,1292.3 271.6,1290.7 272.6,1289.2 C273.7,1287.8 274.7,1285.3 275.8,1284.2 C276.8,1283.2 277.8,1282.9 278.9,1282.8 C279.9,1282.6 281,1282.8 282,1283.6 C283,1284.5 284.1,1286.4 285.1,1288 C286.2,1289.6 287.1,1291.4 288.2,1293 C289.4,1294.6 290.8,1296.8 292,1297.8 C293.2,1298.8 294.4,1298.9 295.8,1299 C297.1,1299.1 298.8,1299.1 300.1,1298.6 C301.5,1298.1 302.7,1297.5 303.9,1296.1 C305,1294.8 306,1292.9 307,1290.5 C308,1288.1 308.9,1285.1 310.1,1281.8 C311.4,1278.4 313.1,1272 314.5,1270.5 C315.9,1269 317.1,1271.5 318.2,1273 C319.4,1274.5 320.3,1276.3 321.4,1279.2 C322.4,1282.2 323.4,1287.3 324.5,1290.5 C325.6,1293.7 326.6,1297.1 328.2,1298.6 C329.9,1300.2 332.4,1299.8 334.5,1299.9 C336.6,1300 339,1299.8 340.8,1299.5 C342.5,1299.2 343.8,1299.2 345.1,1298.2 C346.5,1297.3 347.6,1294.5 348.9,1293.6 C350.1,1292.7 351.3,1292.8 352.6,1292.8 C354,1292.8 355.8,1293.5 357,1293.6 C358.2,1293.8 359,1292.7 360,1293.6 C361,1294.6 361.9,1298.4 363.1,1299.2 C364.4,1300.1 366.1,1299.7 367.5,1299 C368.9,1298.3 370,1297.1 371.2,1295.2 C372.5,1293.4 373.8,1289.6 375,1288 C376.2,1286.4 377.6,1285.9 378.8,1285.5 C379.9,1285.1 380.6,1284.9 381.9,1285.5 C383.1,1286.1 384.8,1287.9 386.2,1289.2 C387.7,1290.6 389.2,1292.4 390.6,1293.6 C392.1,1294.8 393.4,1295.9 395,1296.5 C396.6,1297.1 398.5,1296.9 400,1297.4 C401.5,1297.8 402.5,1298.8 403.8,1299.2 C405,1299.7 400,1299.8 407.5,1299.9 C415,1300 441.4,1300.5 448.8,1299.9 C456.1,1299.3 450.8,1297.2 451.9,1296.1 C452.9,1295.1 453.9,1294.1 455,1293.6 C456.1,1293.1 457.6,1293.4 458.8,1293 C459.9,1292.6 460.8,1291.3 461.9,1291.1 C462.9,1290.9 464,1291.1 465,1291.8 C466,1292.4 467,1294 468.1,1294.9 C469.3,1295.7 470.7,1296.9 471.9,1296.8 C473,1296.6 474,1296.2 475,1294.2 C476,1292.3 477.2,1289 478.1,1284.9 C479.1,1280.7 479.7,1278.1 480.6,1269.2 C481.6,1260.4 482.5,1238.2 483.8,1231.8 C485,1225.3 486.9,1229.7 488,1230.5 C489.1,1231.3 489.6,1233.6 490.5,1236.8 C491.4,1239.9 492.6,1244 493.6,1249.2 C494.7,1254.5 495.8,1261.1 496.8,1268 C497.7,1274.9 498.2,1286.3 499.2,1290.5 C500.3,1294.7 501.8,1292.3 503,1293 C504.2,1293.7 505.5,1295.2 506.8,1294.9 C508,1294.6 509.4,1295.4 510.5,1291.1 C511.6,1286.9 512.6,1275 513.6,1269.2 C514.7,1263.5 515.7,1262.2 516.8,1256.8 C517.8,1251.3 518.5,1239.9 519.9,1236.8 C521.2,1233.6 523.5,1234.5 524.9,1238 C526.2,1241.5 527,1252.4 528,1258 C529,1263.6 530.2,1265.9 531.1,1271.8 C532.1,1277.6 532.5,1288.6 533.6,1293 C534.8,1297.4 536.6,1296.9 538,1298 C539.4,1299.1 540.5,1299.2 541.8,1299.5 C543,1299.8 544.4,1300.4 545.5,1299.5 C546.6,1298.6 547.4,1295.3 548.6,1294.2 C549.9,1293.2 551.6,1293.5 553,1293 C554.4,1292.5 555.6,1292.6 556.8,1291.5 C557.9,1290.4 558.9,1287.1 559.9,1286.5 C560.8,1285.9 561.4,1288.8 562.4,1287.8 C563.3,1286.8 564.5,1282.4 565.5,1280.5 C566.5,1278.6 567.6,1276.4 568.6,1276.1 C569.7,1275.8 570.7,1277.7 571.8,1278.6 C572.8,1279.5 573.8,1281.2 574.9,1281.5 C575.9,1281.8 577,1281.1 578,1280.5 C579,1279.9 580.2,1280.7 581.1,1278 C582.1,1275.3 582.5,1266.4 583.6,1264.2 C584.8,1262.1 586.6,1264.1 588,1264.9 C589.4,1265.6 590.6,1266.2 591.8,1268.6 C592.9,1271 593.9,1274.1 594.9,1279.2 C595.8,1284.4 595.2,1295.8 597.4,1299.2 C599.6,1302.7 605.6,1300.8 608,1299.9 C610.4,1299 610.4,1295.9 611.8,1293.6 C613.1,1291.4 614.6,1288.1 616,1286.5 C617.4,1284.9 619,1285.2 620.4,1284 C621.7,1282.8 623,1279.7 624.1,1279.5 C625.3,1279.3 626.3,1281.7 627.2,1283 C628.2,1284.3 628.5,1286.8 629.8,1287.4 C631,1288 633.3,1286.1 634.8,1286.5 C636.2,1286.9 636.9,1288.5 638.5,1289.9 C640.1,1291.3 642.5,1294.8 644.1,1294.9 C645.8,1295 646.9,1292.2 648.5,1290.5 C650.1,1288.8 651.8,1286.6 653.5,1284.9 C655.2,1283.2 657,1280.5 658.5,1280.2 C660,1280 661,1282.5 662.2,1283.6 C663.5,1284.7 664.5,1285.6 666,1286.8 C667.5,1287.9 669.3,1289.2 671,1290.5 C672.7,1291.8 674.3,1293.4 676,1294.5 C677.7,1295.6 679.6,1297.8 681,1297.4 C682.4,1297 682.7,1294 684.1,1292 C685.6,1290 687.8,1287.3 689.8,1285.2 C691.7,1283.2 694.1,1280.3 696,1279.9 C697.9,1279.5 699.3,1281.4 701,1282.8 C702.7,1284.1 704.3,1285.8 706,1287.8 C707.7,1289.7 709.2,1292.3 711,1294.2 C712.8,1296.2 714.9,1299.6 716.6,1299.5 C718.4,1299.4 720.2,1297.4 721.6,1293.6 C723.1,1289.8 723.9,1282.5 725.4,1276.8 C726.8,1271 728.5,1261.6 730.4,1259 C732.2,1256.4 735.1,1258.4 736.6,1261.1 C738.2,1263.9 738.5,1270.4 739.8,1275.5 C741,1280.6 742.8,1288.2 744,1291.8 C745.2,1295.2 746,1295.4 747.1,1296.5 C748.3,1297.6 749.7,1299 750.9,1298.6 C752,1298.2 753,1297.7 754,1294.2 C755,1290.8 756.1,1282.4 757.1,1278 C758.2,1273.6 759.3,1271.5 760.2,1268 C761.2,1264.5 761.8,1260.3 762.8,1256.8 C763.7,1253.2 764.8,1247.9 765.9,1246.8 C766.9,1245.6 768.1,1247.2 769,1249.9 C769.9,1252.6 770.6,1259.2 771.5,1263 C772.4,1266.8 773.6,1268.7 774.6,1272.4 C775.7,1276.1 776.6,1282 777.8,1285.2 C778.9,1288.5 780.5,1290.8 781.5,1292 C782.5,1293.2 783.1,1292.8 784,1292.4 C784.9,1291.9 785.9,1291.3 787.1,1289.2 C788.4,1287.2 790.1,1282 791.5,1279.9 C792.9,1277.8 794.1,1278.7 795.2,1276.8 C796.4,1274.8 797.1,1270.2 798.4,1268 C799.6,1265.8 801.4,1263.4 802.8,1263.6 C804.1,1263.8 805.2,1266.9 806.5,1269.2 C807.8,1271.6 809,1275.1 810.2,1278 C811.5,1280.9 812.6,1283.7 814,1286.8 C815.4,1289.8 817,1296.3 818.4,1296.5 C819.7,1296.7 820.9,1291.7 822.1,1288 C823.4,1284.3 824.7,1279.5 825.9,1274.2 C827,1269 828,1261.3 829,1256.8 C830,1252.2 831.1,1249.1 832.1,1246.8 C833.2,1244.4 834.1,1242.4 835.2,1242.4 C836.4,1242.3 837.8,1243.9 839,1246.5 C840.2,1249.1 841.5,1254 842.8,1258 C844,1262 845.2,1266.4 846.5,1270.5 C847.8,1274.6 849.1,1279.1 850.2,1282.4 C851.4,1285.7 852,1287.9 853.4,1290.2 C854.7,1292.6 856.9,1298.1 858.4,1296.5 C859.8,1294.9 860.9,1286.9 862.1,1280.5 C863.4,1274.1 864.8,1263.1 865.9,1258 C866.9,1252.9 867.4,1252 868.4,1249.9 C869.4,1247.8 870.9,1244.8 872,1245.5 C873.1,1246.2 874.1,1250.9 875.1,1254.2 C876.2,1257.6 877.2,1260.9 878.2,1265.5 C879.3,1270.1 880.3,1278.1 881.4,1281.8 C882.4,1285.4 883.1,1285.9 884.5,1287.4 C885.9,1288.9 888,1290.6 889.5,1290.8 C891,1290.9 892.1,1291.4 893.2,1288 C894.4,1284.6 895.3,1275.1 896.4,1270.5 C897.4,1265.9 898.5,1264.9 899.5,1260.5 C900.5,1256.1 901.6,1247.5 902.6,1244.2 C903.7,1241 904.8,1241 905.8,1240.8 C906.7,1240.5 907.4,1240.1 908.2,1243 C909.1,1245.9 909.9,1254.2 910.8,1258 C911.6,1261.8 912.3,1261 913.2,1265.5 C914.2,1270 915.3,1280.5 916.4,1284.9 C917.4,1289.2 918.5,1289.6 919.5,1291.5 C920.5,1293.4 921.6,1296 922.6,1296.5 C923.7,1297 924.8,1296.1 925.8,1294.2 C926.7,1292.4 927.3,1289.2 928.2,1285.5 C929.2,1281.8 930.4,1278 931.4,1271.8 C932.3,1265.5 932.9,1254.5 933.9,1248 C934.8,1241.5 936.1,1236.1 937,1233 C937.9,1229.9 938.6,1228.6 939.5,1229.2 C940.4,1229.9 941.6,1233.6 942.6,1236.8 C943.7,1239.9 944.8,1243.4 945.8,1248 C946.7,1252.6 947.4,1258.2 948.2,1264.2 C949.1,1270.3 949.7,1280 950.8,1284.2 C951.8,1288.5 953,1288.3 954.5,1289.9 C956,1291.4 958.1,1293.9 959.5,1293.6 C960.9,1293.3 961.6,1291.4 962.6,1288 C963.7,1284.6 964.7,1278.6 965.8,1273 C966.8,1267.4 967.8,1257.7 968.9,1254.2 C969.9,1250.8 970.9,1253.7 972,1252.4 C973.1,1251.1 974.5,1246.8 975.8,1246.5 C977,1246.2 978.4,1247.1 979.5,1250.5 C980.6,1253.9 981.6,1263.8 982.6,1266.8 C983.7,1269.7 984.7,1267.2 985.8,1268 C986.8,1268.8 987.8,1270.3 988.9,1271.8 C989.9,1273.2 991,1274 992,1276.8 C993,1279.5 994.1,1285 995.1,1288 C996.2,1291 997.4,1293.4 998.2,1294.9 C999.1,1296.3 999.7,1296.4 1000,1296.8" fill="none" stroke="#222" stroke-width="1.6" stroke-linejoin="round" stroke-linecap="round"/>
<line x1="105.3" x2="1006.3" y1="109" y2="109" stroke="#000" stroke-width="1.1"/>
<line x1="105.3" x2="105.3" y1="24.8" y2="193.3" stroke="#000" stroke-width="3"/>
<line x1="1006.3" x2="1006.3" y1="24.8" y2="193.3" stroke="#000" stroke-width="3"/>
<line x1="93.3" x2="105.3" y1="193.3" y2="193.3" stroke="#000" stroke-width="1.4"/>
<line x1="1006.3" x2="1018.3" y1="193.3" y2="193.3" stroke="#000" stroke-width="1.4"/>
<line x1="93.3" x2="105.3" y1="151.2" y2="151.2" stroke="#000" stroke-width="1.4"/>
<line x1="1006.3" x2="1018.3" y1="151.2" y2="151.2" stroke="#000" stroke-width="1.4"/>
<line x1="93.3" x2="105.3" y1="109" y2="109" stroke="#000" stroke-width="1.4"/>
<line x1="1006.3" x2="1018.3" y1="109" y2="109" stroke="#000" stroke-width="1.4"/>
<line x1="93.3" x2="105.3" y1="66.9" y2="66.9" stroke="#000" stroke-width="1.4"/>
<line x1="1006.3" x2="1018.3" y1="66.9" y2="66.9" stroke="#000" stroke-width="1.4"/>
<line x1="93.3" x2="105.3" y1="24.8" y2="24.8" stroke="#000" stroke-width="1.4"/>
<line x1="1006.3" x2="1018.3" y1="24.8" y2="24.8" stroke="#000" stroke-width="1.4"/>
<line x1="98.3" x2="105.3" y1="172.2" y2="172.2" stroke="#000" stroke-width="1.4"/>
<line x1="1006.3" x2="1012.1" y1="172.2" y2="172.2" stroke="#000" stroke-width="1.4"/>
<line x1="98.3" x2="105.3" y1="130.1" y2="130.1" stroke="#000" stroke-width="1.4"/>
<line x1="1006.3" x2="1012.1" y1="130.1" y2="130.1" stroke="#000" stroke-width="1.4"/>
<line x1="98.3" x2="105.3" y1="88" y2="88" stroke="#000" stroke-width="1.4"/>
<line x1="1006.3" x2="1012.1" y1="88" y2="88" stroke="#000" stroke-width="1.4"/>
<line x1="98.3" x2="105.3" y1="45.9" y2="45.9" stroke="#000" stroke-width="1.4"/>
<line x1="1006.3" x2="1012.1" y1="45.9" y2="45.9" stroke="#000" stroke-width="1.4"/>
<text x="82.2" y="202.1" text-anchor="end" font-size="24.5" fill="#111"><tspan dy="2.4">−</tspan><tspan dy="-2.4">4</tspan></text>
<text x="82.2" y="160" text-anchor="end" font-size="24.5" fill="#111"><tspan dy="2.4">−</tspan><tspan dy="-2.4">2</tspan></text>
<text x="82.2" y="117.8" text-anchor="end" font-size="24.5" fill="#111">0</text>
<text x="82.2" y="75.7" text-anchor="end" font-size="24.5" fill="#111">2</text>
<text x="82.2" y="33.6" text-anchor="end" font-size="24.5" fill="#111">4</text>
<text transform="translate(27.2,109.1) rotate(-90) scale(1,1.07)" text-anchor="middle" font-size="29.6" fill="#111">DMI</text>
<line x1="105.3" x2="1006.3" y1="295.2" y2="295.2" stroke="#000" stroke-width="1.1"/>
<line x1="105.3" x2="105.3" y1="211.0" y2="379.5" stroke="#000" stroke-width="3"/>
<line x1="1006.3" x2="1006.3" y1="211.0" y2="379.5" stroke="#000" stroke-width="3"/>
<line x1="93.3" x2="105.3" y1="379.5" y2="379.5" stroke="#000" stroke-width="1.4"/>
<line x1="1006.3" x2="1018.3" y1="379.5" y2="379.5" stroke="#000" stroke-width="1.4"/>
<line x1="93.3" x2="105.3" y1="337.4" y2="337.4" stroke="#000" stroke-width="1.4"/>
<line x1="1006.3" x2="1018.3" y1="337.4" y2="337.4" stroke="#000" stroke-width="1.4"/>
<line x1="93.3" x2="105.3" y1="295.2" y2="295.2" stroke="#000" stroke-width="1.4"/>
<line x1="1006.3" x2="1018.3" y1="295.2" y2="295.2" stroke="#000" stroke-width="1.4"/>
<line x1="93.3" x2="105.3" y1="253.1" y2="253.1" stroke="#000" stroke-width="1.4"/>
<line x1="1006.3" x2="1018.3" y1="253.1" y2="253.1" stroke="#000" stroke-width="1.4"/>
<line x1="93.3" x2="105.3" y1="211" y2="211" stroke="#000" stroke-width="1.4"/>
<line x1="1006.3" x2="1018.3" y1="211" y2="211" stroke="#000" stroke-width="1.4"/>
<line x1="98.3" x2="105.3" y1="358.4" y2="358.4" stroke="#000" stroke-width="1.4"/>
<line x1="1006.3" x2="1012.1" y1="358.4" y2="358.4" stroke="#000" stroke-width="1.4"/>
<line x1="98.3" x2="105.3" y1="316.3" y2="316.3" stroke="#000" stroke-width="1.4"/>
<line x1="1006.3" x2="1012.1" y1="316.3" y2="316.3" stroke="#000" stroke-width="1.4"/>
<line x1="98.3" x2="105.3" y1="274.2" y2="274.2" stroke="#000" stroke-width="1.4"/>
<line x1="1006.3" x2="1012.1" y1="274.2" y2="274.2" stroke="#000" stroke-width="1.4"/>
<line x1="98.3" x2="105.3" y1="232.1" y2="232.1" stroke="#000" stroke-width="1.4"/>
<line x1="1006.3" x2="1012.1" y1="232.1" y2="232.1" stroke="#000" stroke-width="1.4"/>
<text x="82.2" y="388.3" text-anchor="end" font-size="24.5" fill="#111"><tspan dy="2.4">−</tspan><tspan dy="-2.4">4</tspan></text>
<text x="82.2" y="346.2" text-anchor="end" font-size="24.5" fill="#111"><tspan dy="2.4">−</tspan><tspan dy="-2.4">2</tspan></text>
<text x="82.2" y="304.1" text-anchor="end" font-size="24.5" fill="#111">0</text>
<text x="82.2" y="261.9" text-anchor="end" font-size="24.5" fill="#111">2</text>
<text x="82.2" y="219.8" text-anchor="end" font-size="24.5" fill="#111">4</text>
<text transform="translate(27.2,295.2) rotate(-90) scale(1,1.07)" text-anchor="middle" font-size="29.6" fill="#111">MEI</text>
<line x1="105.3" x2="1006.3" y1="481.4" y2="481.4" stroke="#000" stroke-width="1.1"/>
<line x1="105.3" x2="105.3" y1="397.2" y2="565.6" stroke="#000" stroke-width="3"/>
<line x1="1006.3" x2="1006.3" y1="397.2" y2="565.6" stroke="#000" stroke-width="3"/>
<line x1="93.3" x2="105.3" y1="537.5" y2="537.5" stroke="#000" stroke-width="1.4"/>
<line x1="1006.3" x2="1018.3" y1="537.5" y2="537.5" stroke="#000" stroke-width="1.4"/>
<line x1="93.3" x2="105.3" y1="481.4" y2="481.4" stroke="#000" stroke-width="1.4"/>
<line x1="1006.3" x2="1018.3" y1="481.4" y2="481.4" stroke="#000" stroke-width="1.4"/>
<line x1="93.3" x2="105.3" y1="425.3" y2="425.3" stroke="#000" stroke-width="1.4"/>
<line x1="1006.3" x2="1018.3" y1="425.3" y2="425.3" stroke="#000" stroke-width="1.4"/>
<line x1="98.3" x2="105.3" y1="565.6" y2="565.6" stroke="#000" stroke-width="1.4"/>
<line x1="1006.3" x2="1012.1" y1="565.6" y2="565.6" stroke="#000" stroke-width="1.4"/>
<line x1="98.3" x2="105.3" y1="509.5" y2="509.5" stroke="#000" stroke-width="1.4"/>
<line x1="1006.3" x2="1012.1" y1="509.5" y2="509.5" stroke="#000" stroke-width="1.4"/>
<line x1="98.3" x2="105.3" y1="453.3" y2="453.3" stroke="#000" stroke-width="1.4"/>
<line x1="1006.3" x2="1012.1" y1="453.3" y2="453.3" stroke="#000" stroke-width="1.4"/>
<line x1="98.3" x2="105.3" y1="397.2" y2="397.2" stroke="#000" stroke-width="1.4"/>
<line x1="1006.3" x2="1012.1" y1="397.2" y2="397.2" stroke="#000" stroke-width="1.4"/>
<text x="82.2" y="546.3" text-anchor="end" font-size="24.5" fill="#111"><tspan dy="2.4">−</tspan><tspan dy="-2.4">2</tspan></text>
<text x="82.2" y="490.2" text-anchor="end" font-size="24.5" fill="#111">0</text>
<text x="82.2" y="434.1" text-anchor="end" font-size="24.5" fill="#111">2</text>
<text transform="translate(27.2,481.4) rotate(-90) scale(1,1.07)" text-anchor="middle" font-size="29.6" fill="#111">NINO.WEST</text>
<line x1="105.3" x2="1006.3" y1="741.5" y2="741.5" stroke="#000" stroke-width="1.1"/>
<line x1="105.3" x2="105.3" y1="582.3" y2="752.1" stroke="#000" stroke-width="3"/>
<line x1="1006.3" x2="1006.3" y1="582.3" y2="752.1" stroke="#000" stroke-width="3"/>
<line x1="93.3" x2="105.3" y1="741.5" y2="741.5" stroke="#000" stroke-width="1.4"/>
<line x1="1006.3" x2="1018.3" y1="741.5" y2="741.5" stroke="#000" stroke-width="1.4"/>
<line x1="93.3" x2="105.3" y1="709.7" y2="709.7" stroke="#000" stroke-width="1.4"/>
<line x1="1006.3" x2="1018.3" y1="709.7" y2="709.7" stroke="#000" stroke-width="1.4"/>
<line x1="93.3" x2="105.3" y1="677.8" y2="677.8" stroke="#000" stroke-width="1.4"/>
<line x1="1006.3" x2="1018.3" y1="677.8" y2="677.8" stroke="#000" stroke-width="1.4"/>
<line x1="93.3" x2="105.3" y1="646" y2="646" stroke="#000" stroke-width="1.4"/>
<line x1="1006.3" x2="1018.3" y1="646" y2="646" stroke="#000" stroke-width="1.4"/>
<line x1="93.3" x2="105.3" y1="614.1" y2="614.1" stroke="#000" stroke-width="1.4"/>
<line x1="1006.3" x2="1018.3" y1="614.1" y2="614.1" stroke="#000" stroke-width="1.4"/>
<line x1="93.3" x2="105.3" y1="582.3" y2="582.3" stroke="#000" stroke-width="1.4"/>
<line x1="1006.3" x2="1018.3" y1="582.3" y2="582.3" stroke="#000" stroke-width="1.4"/>
<text x="82.2" y="750.3" text-anchor="end" font-size="24.5" fill="#111">0</text>
<text x="82.2" y="718.5" text-anchor="end" font-size="24.5" fill="#111">6</text>
<text x="82.2" y="686.6" text-anchor="end" font-size="24.5" fill="#111">12</text>
<text x="82.2" y="654.8" text-anchor="end" font-size="24.5" fill="#111">18</text>
<text x="82.2" y="622.9" text-anchor="end" font-size="24.5" fill="#111">24</text>
<text x="82.2" y="591.1" text-anchor="end" font-size="24.5" fill="#111">30</text>
<text transform="translate(27.2,667.2) rotate(-90) scale(1,1.07)" text-anchor="middle" font-size="29.6" fill="#111">rainfall</text>
<line x1="105.3" x2="1006.3" y1="926.5" y2="926.5" stroke="#000" stroke-width="1.1"/>
<line x1="105.3" x2="105.3" y1="768.5" y2="937.4" stroke="#000" stroke-width="3"/>
<line x1="1006.3" x2="1006.3" y1="768.5" y2="937.4" stroke="#000" stroke-width="3"/>
<line x1="93.3" x2="105.3" y1="926.5" y2="926.5" stroke="#000" stroke-width="1.4"/>
<line x1="1006.3" x2="1018.3" y1="926.5" y2="926.5" stroke="#000" stroke-width="1.4"/>
<line x1="93.3" x2="105.3" y1="894.9" y2="894.9" stroke="#000" stroke-width="1.4"/>
<line x1="1006.3" x2="1018.3" y1="894.9" y2="894.9" stroke="#000" stroke-width="1.4"/>
<line x1="93.3" x2="105.3" y1="863.3" y2="863.3" stroke="#000" stroke-width="1.4"/>
<line x1="1006.3" x2="1018.3" y1="863.3" y2="863.3" stroke="#000" stroke-width="1.4"/>
<line x1="93.3" x2="105.3" y1="831.7" y2="831.7" stroke="#000" stroke-width="1.4"/>
<line x1="1006.3" x2="1018.3" y1="831.7" y2="831.7" stroke="#000" stroke-width="1.4"/>
<line x1="93.3" x2="105.3" y1="800.1" y2="800.1" stroke="#000" stroke-width="1.4"/>
<line x1="1006.3" x2="1018.3" y1="800.1" y2="800.1" stroke="#000" stroke-width="1.4"/>
<line x1="93.3" x2="105.3" y1="768.5" y2="768.5" stroke="#000" stroke-width="1.4"/>
<line x1="1006.3" x2="1018.3" y1="768.5" y2="768.5" stroke="#000" stroke-width="1.4"/>
<text x="82.2" y="935.3" text-anchor="end" font-size="24.5" fill="#111">0</text>
<text x="82.2" y="903.7" text-anchor="end" font-size="24.5" fill="#111">6</text>
<text x="82.2" y="872.1" text-anchor="end" font-size="24.5" fill="#111">12</text>
<text x="82.2" y="840.5" text-anchor="end" font-size="24.5" fill="#111">18</text>
<text x="82.2" y="808.9" text-anchor="end" font-size="24.5" fill="#111">24</text>
<text x="82.2" y="777.3" text-anchor="end" font-size="24.5" fill="#111">30</text>
<text transform="translate(27.2,853) rotate(-90) scale(1,1.07)" text-anchor="middle" font-size="29.6" fill="#111">rainfall</text>
<line x1="105.3" x2="1006.3" y1="1113.1" y2="1113.1" stroke="#000" stroke-width="1.1"/>
<line x1="105.3" x2="105.3" y1="954.7" y2="1123.8" stroke="#000" stroke-width="3"/>
<line x1="1006.3" x2="1006.3" y1="954.7" y2="1123.8" stroke="#000" stroke-width="3"/>
<line x1="93.3" x2="105.3" y1="1113.1" y2="1113.1" stroke="#000" stroke-width="1.4"/>
<line x1="1006.3" x2="1018.3" y1="1113.1" y2="1113.1" stroke="#000" stroke-width="1.4"/>
<line x1="93.3" x2="105.3" y1="1081.4" y2="1081.4" stroke="#000" stroke-width="1.4"/>
<line x1="1006.3" x2="1018.3" y1="1081.4" y2="1081.4" stroke="#000" stroke-width="1.4"/>
<line x1="93.3" x2="105.3" y1="1049.7" y2="1049.7" stroke="#000" stroke-width="1.4"/>
<line x1="1006.3" x2="1018.3" y1="1049.7" y2="1049.7" stroke="#000" stroke-width="1.4"/>
<line x1="93.3" x2="105.3" y1="1018.1" y2="1018.1" stroke="#000" stroke-width="1.4"/>
<line x1="1006.3" x2="1018.3" y1="1018.1" y2="1018.1" stroke="#000" stroke-width="1.4"/>
<line x1="93.3" x2="105.3" y1="986.4" y2="986.4" stroke="#000" stroke-width="1.4"/>
<line x1="1006.3" x2="1018.3" y1="986.4" y2="986.4" stroke="#000" stroke-width="1.4"/>
<line x1="93.3" x2="105.3" y1="954.7" y2="954.7" stroke="#000" stroke-width="1.4"/>
<line x1="1006.3" x2="1018.3" y1="954.7" y2="954.7" stroke="#000" stroke-width="1.4"/>
<text x="82.2" y="1121.9" text-anchor="end" font-size="24.5" fill="#111">0</text>
<text x="82.2" y="1090.2" text-anchor="end" font-size="24.5" fill="#111">6</text>
<text x="82.2" y="1058.5" text-anchor="end" font-size="24.5" fill="#111">12</text>
<text x="82.2" y="1026.9" text-anchor="end" font-size="24.5" fill="#111">18</text>
<text x="82.2" y="995.2" text-anchor="end" font-size="24.5" fill="#111">24</text>
<text x="82.2" y="963.5" text-anchor="end" font-size="24.5" fill="#111">30</text>
<text transform="translate(27.2,1039.2) rotate(-90) scale(1,1.07)" text-anchor="middle" font-size="29.6" fill="#111">rainfall</text>
<line x1="105.3" x2="1006.3" y1="1299.9" y2="1299.9" stroke="#000" stroke-width="1.1"/>
<line x1="105.3" x2="105.3" y1="1141.3" y2="1310.5" stroke="#000" stroke-width="3"/>
<line x1="1006.3" x2="1006.3" y1="1141.3" y2="1310.5" stroke="#000" stroke-width="3"/>
<line x1="93.3" x2="105.3" y1="1299.9" y2="1299.9" stroke="#000" stroke-width="1.4"/>
<line x1="1006.3" x2="1018.3" y1="1299.9" y2="1299.9" stroke="#000" stroke-width="1.4"/>
<line x1="93.3" x2="105.3" y1="1268.2" y2="1268.2" stroke="#000" stroke-width="1.4"/>
<line x1="1006.3" x2="1018.3" y1="1268.2" y2="1268.2" stroke="#000" stroke-width="1.4"/>
<line x1="93.3" x2="105.3" y1="1236.5" y2="1236.5" stroke="#000" stroke-width="1.4"/>
<line x1="1006.3" x2="1018.3" y1="1236.5" y2="1236.5" stroke="#000" stroke-width="1.4"/>
<line x1="93.3" x2="105.3" y1="1204.7" y2="1204.7" stroke="#000" stroke-width="1.4"/>
<line x1="1006.3" x2="1018.3" y1="1204.7" y2="1204.7" stroke="#000" stroke-width="1.4"/>
<line x1="93.3" x2="105.3" y1="1173" y2="1173" stroke="#000" stroke-width="1.4"/>
<line x1="1006.3" x2="1018.3" y1="1173" y2="1173" stroke="#000" stroke-width="1.4"/>
<line x1="93.3" x2="105.3" y1="1141.3" y2="1141.3" stroke="#000" stroke-width="1.4"/>
<line x1="1006.3" x2="1018.3" y1="1141.3" y2="1141.3" stroke="#000" stroke-width="1.4"/>
<text x="82.2" y="1308.7" text-anchor="end" font-size="24.5" fill="#111">0</text>
<text x="82.2" y="1277" text-anchor="end" font-size="24.5" fill="#111">6</text>
<text x="82.2" y="1245.3" text-anchor="end" font-size="24.5" fill="#111">12</text>
<text x="82.2" y="1213.5" text-anchor="end" font-size="24.5" fill="#111">18</text>
<text x="82.2" y="1181.8" text-anchor="end" font-size="24.5" fill="#111">24</text>
<text x="82.2" y="1150.1" text-anchor="end" font-size="24.5" fill="#111">30</text>
<text transform="translate(27.2,1225.9) rotate(-90) scale(1,1.07)" text-anchor="middle" font-size="29.6" fill="#111">rainfall</text>
<line x1="103.8" x2="1007.8" y1="1310.5" y2="1310.5" stroke="#000" stroke-width="3"/>
<line x1="105.1" x2="105.1" y1="1310.5" y2="1322.5" stroke="#333" stroke-width="1.2"/>
<text x="122.5" y="1350.5" text-anchor="middle" font-size="23.6" fill="#111">1985</text>
<line x1="278.9" x2="278.9" y1="1310.5" y2="1322.5" stroke="#333" stroke-width="1.2"/>
<text x="296.8" y="1350.5" text-anchor="middle" font-size="23.6" fill="#111">1990</text>
<line x1="452.6" x2="452.6" y1="1310.5" y2="1322.5" stroke="#333" stroke-width="1.2"/>
<text x="470" y="1350.5" text-anchor="middle" font-size="23.6" fill="#111">1995</text>
<line x1="626.4" x2="626.4" y1="1310.5" y2="1322.5" stroke="#333" stroke-width="1.2"/>
<text x="643.6" y="1350.5" text-anchor="middle" font-size="23.6" fill="#111">2000</text>
<line x1="801.2" x2="801.2" y1="1310.5" y2="1322.5" stroke="#333" stroke-width="1.2"/>
<text x="817.6" y="1350.5" text-anchor="middle" font-size="23.6" fill="#111">2005</text>
<line x1="973.9" x2="973.9" y1="1310.5" y2="1322.5" stroke="#333" stroke-width="1.2"/>
<text x="989.8" y="1350.5" text-anchor="middle" font-size="23.6" fill="#111">2010</text>
<path d="M105.2 741.5V721.2" stroke="#b00000" stroke-width="2.1" fill="none"/>
<path d="M105.2 1113.1V1075" stroke="#b00000" stroke-width="2.1" fill="none"/>
<path d="M105.2 1299.9V1267.4" stroke="#b00000" stroke-width="2.1" fill="none"/>
<line x1="457.97" x2="457.97" y1="4.5" y2="1310.5" stroke="#333" stroke-width="1.3"/>
<line x1="530.9" x2="530.9" y1="4.5" y2="1310.5" stroke="#333" stroke-width="1.3"/>
<line x1="568.2" x2="568.2" y1="4.5" y2="1310.5" stroke="#333" stroke-width="1.3"/>
<line x1="632.56" x2="632.56" y1="4.5" y2="1310.5" stroke="#333" stroke-width="1.3"/>
<rect x="484.7" y="211.1" width="22.5" height="81" rx="2.5" fill="#ffff00" stroke="#b0b000" stroke-width="0.6"/>
<text transform="translate(503.6,251.6) rotate(-90) scale(1,1.1)" text-anchor="middle" font-size="21" fill="#111">PW−IW</text>
<rect x="537.8" y="300" width="22.5" height="76.5" rx="2.5" fill="#ffff00" stroke="#b0b000" stroke-width="0.6"/>
<text transform="translate(556.6,338.2) rotate(-90) scale(1,1.1)" text-anchor="middle" font-size="21" fill="#111">PW−IC</text>
<rect x="588.9" y="211.1" width="23" height="81" rx="2.5" fill="#ffff00" stroke="#b0b000" stroke-width="0.6"/>
<text transform="translate(608,251.6) rotate(-90) scale(1,1.1)" text-anchor="middle" font-size="21" fill="#111">PW−IW</text>
<text x="140" y="616.9" font-size="21.8" fill="#1a1a1a">St.966450</text>
<text x="140" y="642.2" font-size="21.8" fill="#1a1a1a">Monthly mean (mm/mon)</text>
<text x="140" y="803.1" font-size="21.8" fill="#1a1a1a">St.967490</text>
<text x="140" y="828.4" font-size="21.8" fill="#1a1a1a">Monthly mean (mm/mon)</text>
<text x="140" y="989.3" font-size="21.8" fill="#1a1a1a">St.972300</text>
<text x="140" y="1014.6" font-size="21.8" fill="#1a1a1a">Monthly mean (mm/mon)</text>
<text x="140" y="1175.9" font-size="21.8" fill="#1a1a1a">St.971800</text>
<text x="140" y="1201.2" font-size="21.8" fill="#1a1a1a">Monthly mean (mm/mon)</text></svg>
</body></html>
